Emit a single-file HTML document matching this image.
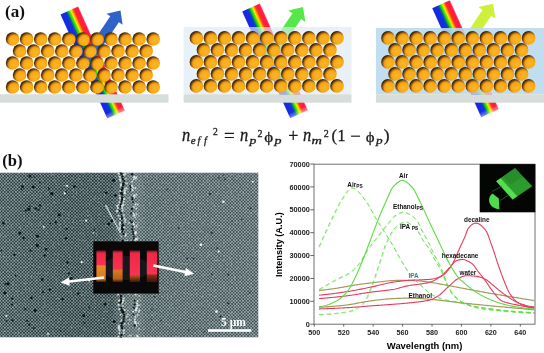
<!DOCTYPE html>
<html lang="en"><head><meta charset="utf-8"><title>Photonic crystal figure</title>
<style>html,body{margin:0;padding:0;background:#fff;}body{width:544px;height:353px;overflow:hidden;}svg{display:block;}.ss{font-family:"Liberation Sans",Arial,sans-serif;}.sf{font-family:"Liberation Serif","Times New Roman",serif;}</style></head><body>
<svg width="544" height="353" viewBox="0 0 544 353">
<defs>
<radialGradient id="sph" cx="0.63" cy="0.63" r="0.68"><stop offset="0" stop-color="#fdb624"/><stop offset="0.5" stop-color="#f8a916"/><stop offset="0.63" stop-color="#e29212"/><stop offset="0.75" stop-color="#9e5e0a"/><stop offset="0.87" stop-color="#542f05"/><stop offset="1" stop-color="#261500"/></radialGradient>
<linearGradient id="rb" x1="0" y1="0" x2="1" y2="0"><stop offset="0" stop-color="#3030d8"/><stop offset="0.06" stop-color="#1428e8"/><stop offset="0.30" stop-color="#1032e2"/><stop offset="0.37" stop-color="#0a7a58"/><stop offset="0.43" stop-color="#10cc20"/><stop offset="0.50" stop-color="#58e010"/><stop offset="0.57" stop-color="#f4f000"/><stop offset="0.65" stop-color="#ff9800"/><stop offset="0.73" stop-color="#ff2a30"/><stop offset="0.92" stop-color="#ff1840"/><stop offset="1" stop-color="#ff4878"/></linearGradient>
<pattern id="hex" width="3.2" height="3.2" patternUnits="userSpaceOnUse"><rect width="3.2" height="3.2" fill="#16262b"/>
<circle cx="0" cy="0" r="0.86" fill="#a9bfbf"/>
<circle cx="3.2" cy="0" r="0.86" fill="#a9bfbf"/>
<circle cx="1.6" cy="1.6" r="0.86" fill="#a9bfbf"/>
<circle cx="0" cy="3.2" r="0.86" fill="#a9bfbf"/>
<circle cx="3.2" cy="3.2" r="0.86" fill="#a9bfbf"/>
</pattern>
<linearGradient id="semsh" x1="0" y1="0" x2="1" y2="0"><stop offset="0" stop-color="#c0d0d0" stop-opacity="0.06"/><stop offset="0.25" stop-color="#203030" stop-opacity="0.06"/><stop offset="0.45" stop-color="#203030" stop-opacity="0.10"/><stop offset="0.56" stop-color="#e8eceb" stop-opacity="0.13"/><stop offset="1" stop-color="#e8eceb" stop-opacity="0.16"/></linearGradient>
<linearGradient id="fade" x1="0" y1="0" x2="0" y2="1"><stop offset="0" stop-color="#fff" stop-opacity="0"/><stop offset="1" stop-color="#fff" stop-opacity="0.55"/></linearGradient>
<clipPath id="semclip"><rect x="0" y="172.5" width="258.5" height="165"/></clipPath>
<clipPath id="plotclip"><rect x="314" y="164" width="221" height="160"/></clipPath>
<filter id="noise" x="0" y="0" width="1" height="1"><feTurbulence type="fractalNoise" baseFrequency="0.55" numOctaves="2" seed="4"/><feColorMatrix type="matrix" values="0 0 0 0 0.86  0 0 0 0 0.92  0 0 0 0 0.91  2.6 0 0 0 -1.45"/></filter>
<filter id="noise2" x="0" y="0" width="1" height="1"><feTurbulence type="fractalNoise" baseFrequency="0.5" numOctaves="2" seed="11"/><feColorMatrix type="matrix" values="0 0 0 0 0.05  0 0 0 0 0.09  0 0 0 0 0.1  0 2.6 0 0 -1.45"/></filter>
</defs>
<rect width="544" height="353" fill="#ffffff"/>
<g transform="translate(60.5 14.4) rotate(-24.2)">
<rect x="0" y="0" width="19.4" height="114" fill="url(#rb)"/>
<rect x="-1" y="109" width="21.4" height="6" fill="url(#fade)"/>
</g>
<polygon points="120.5,10.5 122.64,24.74 118.87,22.19 91.21,63.09 82.59,57.27 110.26,16.36 106.49,13.82" fill="#2f63c7"/>
<circle cx="12.6" cy="39" r="6.8" fill="url(#sph)"/>
<circle cx="26.66" cy="39" r="6.8" fill="url(#sph)"/>
<circle cx="40.72" cy="39" r="6.8" fill="url(#sph)"/>
<circle cx="54.78" cy="39" r="6.8" fill="url(#sph)"/>
<circle cx="68.84" cy="39" r="6.8" fill="url(#sph)"/>
<circle cx="82.9" cy="39" r="6.8" fill="url(#sph)"/>
<circle cx="96.96" cy="39" r="6.8" fill="url(#sph)"/>
<circle cx="111.02" cy="39" r="6.8" fill="url(#sph)"/>
<circle cx="125.08" cy="39" r="6.8" fill="url(#sph)"/>
<circle cx="139.14" cy="39" r="6.8" fill="url(#sph)"/>
<circle cx="153.2" cy="39" r="6.8" fill="url(#sph)"/>
<circle cx="19.63" cy="51" r="6.8" fill="url(#sph)"/>
<circle cx="33.69" cy="51" r="6.8" fill="url(#sph)"/>
<circle cx="47.75" cy="51" r="6.8" fill="url(#sph)"/>
<circle cx="61.81" cy="51" r="6.8" fill="url(#sph)"/>
<circle cx="75.87" cy="51" r="6.8" fill="url(#sph)"/>
<circle cx="89.93" cy="51" r="6.8" fill="url(#sph)"/>
<circle cx="103.99" cy="51" r="6.8" fill="url(#sph)"/>
<circle cx="118.05" cy="51" r="6.8" fill="url(#sph)"/>
<circle cx="132.11" cy="51" r="6.8" fill="url(#sph)"/>
<circle cx="146.17" cy="51" r="6.8" fill="url(#sph)"/>
<circle cx="12.6" cy="63" r="6.8" fill="url(#sph)"/>
<circle cx="26.66" cy="63" r="6.8" fill="url(#sph)"/>
<circle cx="40.72" cy="63" r="6.8" fill="url(#sph)"/>
<circle cx="54.78" cy="63" r="6.8" fill="url(#sph)"/>
<circle cx="68.84" cy="63" r="6.8" fill="url(#sph)"/>
<circle cx="82.9" cy="63" r="6.8" fill="url(#sph)"/>
<circle cx="96.96" cy="63" r="6.8" fill="url(#sph)"/>
<circle cx="111.02" cy="63" r="6.8" fill="url(#sph)"/>
<circle cx="125.08" cy="63" r="6.8" fill="url(#sph)"/>
<circle cx="139.14" cy="63" r="6.8" fill="url(#sph)"/>
<circle cx="153.2" cy="63" r="6.8" fill="url(#sph)"/>
<circle cx="19.63" cy="75" r="6.8" fill="url(#sph)"/>
<circle cx="33.69" cy="75" r="6.8" fill="url(#sph)"/>
<circle cx="47.75" cy="75" r="6.8" fill="url(#sph)"/>
<circle cx="61.81" cy="75" r="6.8" fill="url(#sph)"/>
<circle cx="75.87" cy="75" r="6.8" fill="url(#sph)"/>
<circle cx="89.93" cy="75" r="6.8" fill="url(#sph)"/>
<circle cx="103.99" cy="75" r="6.8" fill="url(#sph)"/>
<circle cx="118.05" cy="75" r="6.8" fill="url(#sph)"/>
<circle cx="132.11" cy="75" r="6.8" fill="url(#sph)"/>
<circle cx="146.17" cy="75" r="6.8" fill="url(#sph)"/>
<circle cx="12.6" cy="87" r="6.8" fill="url(#sph)"/>
<circle cx="26.66" cy="87" r="6.8" fill="url(#sph)"/>
<circle cx="40.72" cy="87" r="6.8" fill="url(#sph)"/>
<circle cx="54.78" cy="87" r="6.8" fill="url(#sph)"/>
<circle cx="68.84" cy="87" r="6.8" fill="url(#sph)"/>
<circle cx="82.9" cy="87" r="6.8" fill="url(#sph)"/>
<circle cx="96.96" cy="87" r="6.8" fill="url(#sph)"/>
<circle cx="111.02" cy="87" r="6.8" fill="url(#sph)"/>
<circle cx="125.08" cy="87" r="6.8" fill="url(#sph)"/>
<circle cx="139.14" cy="87" r="6.8" fill="url(#sph)"/>
<circle cx="153.2" cy="87" r="6.8" fill="url(#sph)"/>
<rect x="0" y="94.3" width="168.5" height="8.4" fill="#d6dddb"/>
<g transform="translate(242.2 11.5) rotate(-24.2)">
<rect x="0" y="0" width="19.4" height="117" fill="url(#rb)"/>
<rect x="-1" y="112" width="21.4" height="6" fill="url(#fade)"/>
</g>
<polygon points="303,7.1 305.37,21.98 301.15,19.12 273.71,59.69 265.09,53.87 292.53,13.3 288.31,10.44" fill="#55e848"/>
<rect x="183.6" y="27" width="167.9" height="67.3" fill="#dcebf3" opacity="0.68"/>
<circle cx="196.4" cy="37.9" r="6.8" fill="url(#sph)"/>
<circle cx="210.46" cy="37.9" r="6.8" fill="url(#sph)"/>
<circle cx="224.52" cy="37.9" r="6.8" fill="url(#sph)"/>
<circle cx="238.58" cy="37.9" r="6.8" fill="url(#sph)"/>
<circle cx="252.64" cy="37.9" r="6.8" fill="url(#sph)"/>
<circle cx="266.7" cy="37.9" r="6.8" fill="url(#sph)"/>
<circle cx="280.76" cy="37.9" r="6.8" fill="url(#sph)"/>
<circle cx="294.82" cy="37.9" r="6.8" fill="url(#sph)"/>
<circle cx="308.88" cy="37.9" r="6.8" fill="url(#sph)"/>
<circle cx="322.94" cy="37.9" r="6.8" fill="url(#sph)"/>
<circle cx="337" cy="37.9" r="6.8" fill="url(#sph)"/>
<circle cx="203.43" cy="49.9" r="6.8" fill="url(#sph)"/>
<circle cx="217.49" cy="49.9" r="6.8" fill="url(#sph)"/>
<circle cx="231.55" cy="49.9" r="6.8" fill="url(#sph)"/>
<circle cx="245.61" cy="49.9" r="6.8" fill="url(#sph)"/>
<circle cx="259.67" cy="49.9" r="6.8" fill="url(#sph)"/>
<circle cx="273.73" cy="49.9" r="6.8" fill="url(#sph)"/>
<circle cx="287.79" cy="49.9" r="6.8" fill="url(#sph)"/>
<circle cx="301.85" cy="49.9" r="6.8" fill="url(#sph)"/>
<circle cx="315.91" cy="49.9" r="6.8" fill="url(#sph)"/>
<circle cx="329.97" cy="49.9" r="6.8" fill="url(#sph)"/>
<circle cx="196.4" cy="61.9" r="6.8" fill="url(#sph)"/>
<circle cx="210.46" cy="61.9" r="6.8" fill="url(#sph)"/>
<circle cx="224.52" cy="61.9" r="6.8" fill="url(#sph)"/>
<circle cx="238.58" cy="61.9" r="6.8" fill="url(#sph)"/>
<circle cx="252.64" cy="61.9" r="6.8" fill="url(#sph)"/>
<circle cx="266.7" cy="61.9" r="6.8" fill="url(#sph)"/>
<circle cx="280.76" cy="61.9" r="6.8" fill="url(#sph)"/>
<circle cx="294.82" cy="61.9" r="6.8" fill="url(#sph)"/>
<circle cx="308.88" cy="61.9" r="6.8" fill="url(#sph)"/>
<circle cx="322.94" cy="61.9" r="6.8" fill="url(#sph)"/>
<circle cx="337" cy="61.9" r="6.8" fill="url(#sph)"/>
<circle cx="203.43" cy="73.9" r="6.8" fill="url(#sph)"/>
<circle cx="217.49" cy="73.9" r="6.8" fill="url(#sph)"/>
<circle cx="231.55" cy="73.9" r="6.8" fill="url(#sph)"/>
<circle cx="245.61" cy="73.9" r="6.8" fill="url(#sph)"/>
<circle cx="259.67" cy="73.9" r="6.8" fill="url(#sph)"/>
<circle cx="273.73" cy="73.9" r="6.8" fill="url(#sph)"/>
<circle cx="287.79" cy="73.9" r="6.8" fill="url(#sph)"/>
<circle cx="301.85" cy="73.9" r="6.8" fill="url(#sph)"/>
<circle cx="315.91" cy="73.9" r="6.8" fill="url(#sph)"/>
<circle cx="329.97" cy="73.9" r="6.8" fill="url(#sph)"/>
<circle cx="196.4" cy="85.9" r="6.8" fill="url(#sph)"/>
<circle cx="210.46" cy="85.9" r="6.8" fill="url(#sph)"/>
<circle cx="224.52" cy="85.9" r="6.8" fill="url(#sph)"/>
<circle cx="238.58" cy="85.9" r="6.8" fill="url(#sph)"/>
<circle cx="252.64" cy="85.9" r="6.8" fill="url(#sph)"/>
<circle cx="266.7" cy="85.9" r="6.8" fill="url(#sph)"/>
<circle cx="280.76" cy="85.9" r="6.8" fill="url(#sph)"/>
<circle cx="294.82" cy="85.9" r="6.8" fill="url(#sph)"/>
<circle cx="308.88" cy="85.9" r="6.8" fill="url(#sph)"/>
<circle cx="322.94" cy="85.9" r="6.8" fill="url(#sph)"/>
<circle cx="337" cy="85.9" r="6.8" fill="url(#sph)"/>
<rect x="183.6" y="94.3" width="167.9" height="8.4" fill="#d6dddb"/>
<g transform="translate(432.2 8.2) rotate(-24.2)">
<rect x="0" y="0" width="19.4" height="119.5" fill="url(#rb)"/>
<rect x="-1" y="114.5" width="21.4" height="6" fill="url(#fade)"/>
</g>
<polygon points="493,3.7 495.37,18.58 491.15,15.72 463.71,56.29 455.09,50.47 482.53,9.9 478.31,7.04" fill="#cdf03a"/>
<rect x="375.9" y="28" width="168.1" height="66.3" fill="#b7daee" opacity="0.88"/>
<circle cx="388" cy="37.9" r="6.8" fill="url(#sph)"/>
<circle cx="402.06" cy="37.9" r="6.8" fill="url(#sph)"/>
<circle cx="416.12" cy="37.9" r="6.8" fill="url(#sph)"/>
<circle cx="430.18" cy="37.9" r="6.8" fill="url(#sph)"/>
<circle cx="444.24" cy="37.9" r="6.8" fill="url(#sph)"/>
<circle cx="458.3" cy="37.9" r="6.8" fill="url(#sph)"/>
<circle cx="472.36" cy="37.9" r="6.8" fill="url(#sph)"/>
<circle cx="486.42" cy="37.9" r="6.8" fill="url(#sph)"/>
<circle cx="500.48" cy="37.9" r="6.8" fill="url(#sph)"/>
<circle cx="514.54" cy="37.9" r="6.8" fill="url(#sph)"/>
<circle cx="528.6" cy="37.9" r="6.8" fill="url(#sph)"/>
<circle cx="395.03" cy="49.9" r="6.8" fill="url(#sph)"/>
<circle cx="409.09" cy="49.9" r="6.8" fill="url(#sph)"/>
<circle cx="423.15" cy="49.9" r="6.8" fill="url(#sph)"/>
<circle cx="437.21" cy="49.9" r="6.8" fill="url(#sph)"/>
<circle cx="451.27" cy="49.9" r="6.8" fill="url(#sph)"/>
<circle cx="465.33" cy="49.9" r="6.8" fill="url(#sph)"/>
<circle cx="479.39" cy="49.9" r="6.8" fill="url(#sph)"/>
<circle cx="493.45" cy="49.9" r="6.8" fill="url(#sph)"/>
<circle cx="507.51" cy="49.9" r="6.8" fill="url(#sph)"/>
<circle cx="521.57" cy="49.9" r="6.8" fill="url(#sph)"/>
<circle cx="388" cy="61.9" r="6.8" fill="url(#sph)"/>
<circle cx="402.06" cy="61.9" r="6.8" fill="url(#sph)"/>
<circle cx="416.12" cy="61.9" r="6.8" fill="url(#sph)"/>
<circle cx="430.18" cy="61.9" r="6.8" fill="url(#sph)"/>
<circle cx="444.24" cy="61.9" r="6.8" fill="url(#sph)"/>
<circle cx="458.3" cy="61.9" r="6.8" fill="url(#sph)"/>
<circle cx="472.36" cy="61.9" r="6.8" fill="url(#sph)"/>
<circle cx="486.42" cy="61.9" r="6.8" fill="url(#sph)"/>
<circle cx="500.48" cy="61.9" r="6.8" fill="url(#sph)"/>
<circle cx="514.54" cy="61.9" r="6.8" fill="url(#sph)"/>
<circle cx="528.6" cy="61.9" r="6.8" fill="url(#sph)"/>
<circle cx="395.03" cy="73.9" r="6.8" fill="url(#sph)"/>
<circle cx="409.09" cy="73.9" r="6.8" fill="url(#sph)"/>
<circle cx="423.15" cy="73.9" r="6.8" fill="url(#sph)"/>
<circle cx="437.21" cy="73.9" r="6.8" fill="url(#sph)"/>
<circle cx="451.27" cy="73.9" r="6.8" fill="url(#sph)"/>
<circle cx="465.33" cy="73.9" r="6.8" fill="url(#sph)"/>
<circle cx="479.39" cy="73.9" r="6.8" fill="url(#sph)"/>
<circle cx="493.45" cy="73.9" r="6.8" fill="url(#sph)"/>
<circle cx="507.51" cy="73.9" r="6.8" fill="url(#sph)"/>
<circle cx="521.57" cy="73.9" r="6.8" fill="url(#sph)"/>
<circle cx="388" cy="85.9" r="6.8" fill="url(#sph)"/>
<circle cx="402.06" cy="85.9" r="6.8" fill="url(#sph)"/>
<circle cx="416.12" cy="85.9" r="6.8" fill="url(#sph)"/>
<circle cx="430.18" cy="85.9" r="6.8" fill="url(#sph)"/>
<circle cx="444.24" cy="85.9" r="6.8" fill="url(#sph)"/>
<circle cx="458.3" cy="85.9" r="6.8" fill="url(#sph)"/>
<circle cx="472.36" cy="85.9" r="6.8" fill="url(#sph)"/>
<circle cx="486.42" cy="85.9" r="6.8" fill="url(#sph)"/>
<circle cx="500.48" cy="85.9" r="6.8" fill="url(#sph)"/>
<circle cx="514.54" cy="85.9" r="6.8" fill="url(#sph)"/>
<circle cx="528.6" cy="85.9" r="6.8" fill="url(#sph)"/>
<rect x="375.9" y="94.3" width="168.1" height="8.4" fill="#d6dddb"/>
<text class="sf" x="5" y="17" font-size="17" font-weight="bold" fill="#111">(a)</text>
<text class="sf" x="2.3" y="166.2" font-size="16.6" font-weight="bold" fill="#111">(b)</text>
<text class="sf" x="182" y="141.4" font-size="19" font-style="italic" fill="#1a1a1a" stroke="#1a1a1a" stroke-width="0.3" textLength="8.2" lengthAdjust="spacingAndGlyphs">n</text>
<text class="sf" x="190.7" y="144.4" font-size="11" font-style="italic" fill="#1a1a1a" stroke="#1a1a1a" stroke-width="0.3">e</text>
<text class="sf" x="197.6" y="144.4" font-size="10.2" font-style="italic" fill="#1a1a1a" stroke="#1a1a1a" stroke-width="0.3">f</text>
<text class="sf" x="203.9" y="144.4" font-size="10.2" font-style="italic" fill="#1a1a1a" stroke="#1a1a1a" stroke-width="0.3">f</text>
<text class="sf" x="213" y="135" font-size="10" fill="#1a1a1a" stroke="#1a1a1a" stroke-width="0.3" textLength="4.8" lengthAdjust="spacingAndGlyphs">2</text>
<text class="sf" x="224" y="141.7" font-size="18" fill="#1a1a1a" stroke="#1a1a1a" stroke-width="0.3" textLength="10.8" lengthAdjust="spacingAndGlyphs">=</text>
<text class="sf" x="240" y="141.4" font-size="19" font-style="italic" fill="#1a1a1a" stroke="#1a1a1a" stroke-width="0.3" textLength="8.2" lengthAdjust="spacingAndGlyphs">n</text>
<text class="sf" x="249.6" y="144.4" font-size="10.5" font-style="italic" fill="#1a1a1a" stroke="#1a1a1a" stroke-width="0.3" textLength="6.8" lengthAdjust="spacingAndGlyphs">p</text>
<text class="sf" x="257.6" y="136.7" font-size="10" fill="#1a1a1a" stroke="#1a1a1a" stroke-width="0.3" textLength="5" lengthAdjust="spacingAndGlyphs">2</text>
<text class="sf" x="264.3" y="141.6" font-size="14.8" fill="#1a1a1a" stroke="#1a1a1a" stroke-width="0.3" textLength="8.9" lengthAdjust="spacingAndGlyphs">ϕ</text>
<text class="sf" x="274.6" y="144.4" font-size="10.5" font-style="italic" fill="#1a1a1a" stroke="#1a1a1a" stroke-width="0.3" textLength="7" lengthAdjust="spacingAndGlyphs">p</text>
<text class="sf" x="288.2" y="141.7" font-size="18" fill="#1a1a1a" stroke="#1a1a1a" stroke-width="0.3" textLength="10.1" lengthAdjust="spacingAndGlyphs">+</text>
<text class="sf" x="303" y="141.4" font-size="19" font-style="italic" fill="#1a1a1a" stroke="#1a1a1a" stroke-width="0.3" textLength="8.2" lengthAdjust="spacingAndGlyphs">n</text>
<text class="sf" x="311.6" y="144.4" font-size="10.5" font-style="italic" fill="#1a1a1a" stroke="#1a1a1a" stroke-width="0.3" textLength="10.4" lengthAdjust="spacingAndGlyphs">m</text>
<text class="sf" x="323.8" y="136.7" font-size="10" fill="#1a1a1a" stroke="#1a1a1a" stroke-width="0.3" textLength="5" lengthAdjust="spacingAndGlyphs">2</text>
<text class="sf" x="331.6" y="141.4" font-size="16.5" fill="#1a1a1a" stroke="#1a1a1a" stroke-width="0.3" textLength="5.6" lengthAdjust="spacingAndGlyphs">(</text>
<text class="sf" x="337.6" y="141.4" font-size="15.8" fill="#1a1a1a" stroke="#1a1a1a" stroke-width="0.3" textLength="8" lengthAdjust="spacingAndGlyphs">1</text>
<text class="sf" x="350.2" y="141.7" font-size="18" fill="#1a1a1a" stroke="#1a1a1a" stroke-width="0.3" textLength="10.6" lengthAdjust="spacingAndGlyphs">−</text>
<text class="sf" x="365.8" y="141.6" font-size="14.8" fill="#1a1a1a" stroke="#1a1a1a" stroke-width="0.3" textLength="8.8" lengthAdjust="spacingAndGlyphs">ϕ</text>
<text class="sf" x="376" y="144.4" font-size="10.5" font-style="italic" fill="#1a1a1a" stroke="#1a1a1a" stroke-width="0.3" textLength="6.6" lengthAdjust="spacingAndGlyphs">p</text>
<text class="sf" x="383.8" y="141.4" font-size="16.5" fill="#1a1a1a" stroke="#1a1a1a" stroke-width="0.3" textLength="5.8" lengthAdjust="spacingAndGlyphs">)</text>
<g clip-path="url(#semclip)">
<rect x="0" y="172.5" width="258.5" height="165" fill="url(#hex)"/>
<rect x="0" y="172.5" width="258.5" height="165" fill="url(#semsh)"/>
<rect x="0" y="172.5" width="258.5" height="165" filter="url(#noise)" opacity="0.5"/>
<rect x="0" y="172.5" width="258.5" height="165" filter="url(#noise2)" opacity="0.5"/>
<linearGradient id="crk" gradientUnits="userSpaceOnUse" x1="112" y1="0" x2="146" y2="0"><stop offset="0" stop-color="#c8d4d2" stop-opacity="0"/><stop offset="0.3" stop-color="#c8d4d2" stop-opacity="0.2"/><stop offset="0.75" stop-color="#c8d4d2" stop-opacity="0.2"/><stop offset="1" stop-color="#c8d4d2" stop-opacity="0"/></linearGradient>
<rect x="112" y="172.5" width="34" height="165" fill="url(#crk)"/>
<circle cx="120.47" cy="171.87" r="1.2" fill="#0b1315"/>
<circle cx="122.22" cy="172.54" r="0.9" fill="#cfdad8"/>
<circle cx="134.89" cy="171.96" r="1.18" fill="#dce6e4"/>
<circle cx="128.06" cy="172.59" r="0.86" fill="#ccd8d6"/>
<circle cx="121.49" cy="173.86" r="1.28" fill="#0b1315"/>
<circle cx="118.71" cy="173.55" r="1.15" fill="#d4dedc"/>
<circle cx="123.91" cy="174.91" r="1.09" fill="#cfdad8"/>
<circle cx="132.09" cy="174.21" r="1.17" fill="#0e181a"/>
<circle cx="125.37" cy="173.85" r="0.99" fill="#ccd8d6"/>
<circle cx="122.43" cy="176.4" r="1.15" fill="#0b1315"/>
<circle cx="119.77" cy="176.74" r="1.03" fill="#d4dedc"/>
<circle cx="134.22" cy="177.03" r="1.25" fill="#dce6e4"/>
<circle cx="136.34" cy="177.34" r="0.97" fill="#d8e2e0"/>
<circle cx="122.66" cy="179.23" r="1.19" fill="#0b1315"/>
<circle cx="120.25" cy="179.47" r="1.2" fill="#d4dedc"/>
<circle cx="125.83" cy="178.76" r="0.86" fill="#cfdad8"/>
<circle cx="133.58" cy="179.35" r="0.87" fill="#dce6e4"/>
<circle cx="135.76" cy="178.63" r="0.96" fill="#d8e2e0"/>
<circle cx="124.14" cy="181.01" r="0.94" fill="#0b1315"/>
<circle cx="120.58" cy="180.72" r="0.96" fill="#d4dedc"/>
<circle cx="132.08" cy="181.64" r="0.98" fill="#dce6e4"/>
<circle cx="123.36" cy="183.64" r="1.2" fill="#0b1315"/>
<circle cx="121.17" cy="184.2" r="1" fill="#d4dedc"/>
<circle cx="125.99" cy="183.08" r="0.92" fill="#cfdad8"/>
<circle cx="127.44" cy="183.63" r="0.71" fill="#ccd8d6"/>
<circle cx="123.07" cy="185.36" r="1.21" fill="#0b1315"/>
<circle cx="120.8" cy="185.56" r="1.08" fill="#d4dedc"/>
<circle cx="131.8" cy="186.01" r="1.24" fill="#dce6e4"/>
<circle cx="130.24" cy="185.95" r="0.93" fill="#0e181a"/>
<circle cx="122.55" cy="187.9" r="1.09" fill="#0b1315"/>
<circle cx="124.9" cy="188.48" r="0.92" fill="#cfdad8"/>
<circle cx="133.1" cy="187.79" r="0.92" fill="#dce6e4"/>
<circle cx="130.69" cy="187.46" r="0.93" fill="#0e181a"/>
<circle cx="135.38" cy="188" r="0.96" fill="#d8e2e0"/>
<circle cx="126.54" cy="188.34" r="0.97" fill="#ccd8d6"/>
<circle cx="121.77" cy="190.02" r="1.16" fill="#0b1315"/>
<circle cx="120.22" cy="190.94" r="0.87" fill="#d4dedc"/>
<circle cx="124.92" cy="190.63" r="1.12" fill="#cfdad8"/>
<circle cx="132.31" cy="190.15" r="1.17" fill="#dce6e4"/>
<circle cx="130.49" cy="190.27" r="0.97" fill="#0e181a"/>
<circle cx="121.49" cy="193.14" r="1.34" fill="#0b1315"/>
<circle cx="125.13" cy="193.38" r="0.89" fill="#cfdad8"/>
<circle cx="122.16" cy="194.73" r="0.93" fill="#0b1315"/>
<circle cx="119.83" cy="195.5" r="0.82" fill="#d4dedc"/>
<circle cx="134.47" cy="195.48" r="1.21" fill="#dce6e4"/>
<circle cx="136.44" cy="194.47" r="0.79" fill="#d8e2e0"/>
<circle cx="122.38" cy="197.74" r="1.21" fill="#0b1315"/>
<circle cx="119.9" cy="197.88" r="0.99" fill="#d4dedc"/>
<circle cx="133.77" cy="197.34" r="1.18" fill="#dce6e4"/>
<circle cx="132.46" cy="197.97" r="1.12" fill="#0e181a"/>
<circle cx="129.15" cy="197.88" r="0.71" fill="#ccd8d6"/>
<circle cx="121.97" cy="199.63" r="1.11" fill="#0b1315"/>
<circle cx="120.32" cy="198.8" r="0.82" fill="#d4dedc"/>
<circle cx="124.24" cy="198.91" r="1.19" fill="#cfdad8"/>
<circle cx="132.43" cy="199.31" r="0.93" fill="#0e181a"/>
<circle cx="121.5" cy="201.59" r="1.06" fill="#0b1315"/>
<circle cx="119.46" cy="202.25" r="0.95" fill="#d4dedc"/>
<circle cx="123.71" cy="201.7" r="1.04" fill="#cfdad8"/>
<circle cx="133.06" cy="202.1" r="0.97" fill="#0e181a"/>
<circle cx="120.75" cy="204.39" r="1.13" fill="#0b1315"/>
<circle cx="118.61" cy="204.51" r="0.83" fill="#d4dedc"/>
<circle cx="123.18" cy="204.81" r="1.17" fill="#cfdad8"/>
<circle cx="135.51" cy="204.55" r="0.95" fill="#dce6e4"/>
<circle cx="137.61" cy="204.46" r="0.97" fill="#d8e2e0"/>
<circle cx="120.43" cy="206.56" r="0.95" fill="#0b1315"/>
<circle cx="117.21" cy="205.93" r="1.11" fill="#d4dedc"/>
<circle cx="122.01" cy="205.86" r="1.15" fill="#cfdad8"/>
<circle cx="133.96" cy="206.91" r="0.9" fill="#dce6e4"/>
<circle cx="117.77" cy="208.06" r="1.11" fill="#d4dedc"/>
<circle cx="122.37" cy="208.17" r="1.1" fill="#cfdad8"/>
<circle cx="131.99" cy="208.9" r="1.13" fill="#0e181a"/>
<circle cx="136.28" cy="208.4" r="0.88" fill="#d8e2e0"/>
<circle cx="119.7" cy="211" r="1.08" fill="#0b1315"/>
<circle cx="117.08" cy="211.1" r="1.19" fill="#d4dedc"/>
<circle cx="122.58" cy="210.56" r="1.08" fill="#cfdad8"/>
<circle cx="121.1" cy="213.05" r="0.95" fill="#0b1315"/>
<circle cx="133.6" cy="213.66" r="0.92" fill="#dce6e4"/>
<circle cx="131.07" cy="213.54" r="0.93" fill="#0e181a"/>
<circle cx="136.26" cy="214.13" r="0.79" fill="#d8e2e0"/>
<circle cx="121.92" cy="215.78" r="1.03" fill="#0b1315"/>
<circle cx="118.55" cy="215.67" r="0.95" fill="#d4dedc"/>
<circle cx="123.66" cy="215.42" r="1.11" fill="#cfdad8"/>
<circle cx="134.18" cy="215.68" r="1.09" fill="#dce6e4"/>
<circle cx="122.17" cy="218.22" r="1.33" fill="#0b1315"/>
<circle cx="120.18" cy="218.74" r="0.99" fill="#d4dedc"/>
<circle cx="124.28" cy="218.35" r="1.07" fill="#cfdad8"/>
<circle cx="135.11" cy="217.61" r="0.76" fill="#d8e2e0"/>
<circle cx="125.45" cy="220" r="0.97" fill="#cfdad8"/>
<circle cx="130.5" cy="220.83" r="0.92" fill="#0e181a"/>
<circle cx="121.94" cy="222.43" r="1.12" fill="#0b1315"/>
<circle cx="119.99" cy="222.74" r="1.18" fill="#d4dedc"/>
<circle cx="125.09" cy="221.99" r="0.91" fill="#cfdad8"/>
<circle cx="132.85" cy="223.06" r="1.21" fill="#dce6e4"/>
<circle cx="131.89" cy="222.4" r="1.11" fill="#0e181a"/>
<circle cx="129.11" cy="222.85" r="0.94" fill="#ccd8d6"/>
<circle cx="122.78" cy="225.36" r="1.24" fill="#0b1315"/>
<circle cx="119.66" cy="224.89" r="0.94" fill="#d4dedc"/>
<circle cx="133.94" cy="224.52" r="1.11" fill="#dce6e4"/>
<circle cx="136.68" cy="225.15" r="0.74" fill="#d8e2e0"/>
<circle cx="122" cy="227.42" r="1.2" fill="#0b1315"/>
<circle cx="120.11" cy="227.13" r="0.92" fill="#d4dedc"/>
<circle cx="124.12" cy="227.55" r="1.1" fill="#cfdad8"/>
<circle cx="134.67" cy="227.03" r="0.96" fill="#dce6e4"/>
<circle cx="132.61" cy="226.47" r="1" fill="#0e181a"/>
<circle cx="136.97" cy="226.97" r="0.8" fill="#d8e2e0"/>
<circle cx="122.67" cy="229.35" r="1.32" fill="#0b1315"/>
<circle cx="119.72" cy="228.86" r="0.85" fill="#d4dedc"/>
<circle cx="132.13" cy="229.37" r="1.1" fill="#0e181a"/>
<circle cx="122.13" cy="231.7" r="1" fill="#0b1315"/>
<circle cx="120.4" cy="231.32" r="0.9" fill="#d4dedc"/>
<circle cx="135.67" cy="232.27" r="1.23" fill="#dce6e4"/>
<circle cx="133.06" cy="231.93" r="1.05" fill="#0e181a"/>
<circle cx="123.57" cy="234.08" r="1.2" fill="#0b1315"/>
<circle cx="125.79" cy="234.36" r="1" fill="#cfdad8"/>
<circle cx="135.42" cy="233.73" r="1.06" fill="#dce6e4"/>
<circle cx="133.28" cy="234.33" r="0.98" fill="#0e181a"/>
<circle cx="121.38" cy="236.6" r="0.82" fill="#d4dedc"/>
<circle cx="125.41" cy="235.72" r="1.02" fill="#cfdad8"/>
<circle cx="133.92" cy="236.71" r="0.85" fill="#0e181a"/>
<circle cx="136.03" cy="239.22" r="1.19" fill="#dce6e4"/>
<circle cx="133.7" cy="238.68" r="0.84" fill="#0e181a"/>
<circle cx="137.25" cy="238.22" r="0.75" fill="#d8e2e0"/>
<circle cx="122.59" cy="240.92" r="1.22" fill="#0b1315"/>
<circle cx="120.2" cy="241.41" r="0.96" fill="#d4dedc"/>
<circle cx="125.42" cy="241.35" r="0.95" fill="#cfdad8"/>
<circle cx="135.36" cy="241.12" r="0.94" fill="#dce6e4"/>
<circle cx="132.7" cy="241.45" r="0.86" fill="#0e181a"/>
<circle cx="127.18" cy="240.47" r="0.82" fill="#ccd8d6"/>
<circle cx="120.93" cy="242.91" r="0.98" fill="#0b1315"/>
<circle cx="118.76" cy="242.54" r="0.98" fill="#d4dedc"/>
<circle cx="124.23" cy="242.58" r="0.96" fill="#cfdad8"/>
<circle cx="134.21" cy="243.86" r="0.94" fill="#dce6e4"/>
<circle cx="132.74" cy="242.76" r="1.05" fill="#0e181a"/>
<circle cx="136.75" cy="242.58" r="0.92" fill="#d8e2e0"/>
<circle cx="130.01" cy="243.24" r="0.98" fill="#ccd8d6"/>
<circle cx="120.29" cy="245.37" r="1.31" fill="#0b1315"/>
<circle cx="122.55" cy="245.89" r="1.19" fill="#cfdad8"/>
<circle cx="133.8" cy="245.04" r="0.89" fill="#dce6e4"/>
<circle cx="131.74" cy="244.89" r="1.06" fill="#0e181a"/>
<circle cx="130.46" cy="245.56" r="0.94" fill="#ccd8d6"/>
<circle cx="122.19" cy="248.07" r="1.18" fill="#cfdad8"/>
<circle cx="133.92" cy="248.32" r="0.9" fill="#dce6e4"/>
<circle cx="131.82" cy="248.19" r="1.17" fill="#0e181a"/>
<circle cx="136.89" cy="248.27" r="0.95" fill="#d8e2e0"/>
<circle cx="117.53" cy="249.77" r="1.11" fill="#d4dedc"/>
<circle cx="122.06" cy="249.67" r="1.09" fill="#cfdad8"/>
<circle cx="134.36" cy="250.06" r="1.04" fill="#dce6e4"/>
<circle cx="132.12" cy="249.44" r="0.99" fill="#0e181a"/>
<circle cx="119.95" cy="252.84" r="1.22" fill="#0b1315"/>
<circle cx="134.59" cy="252.78" r="0.98" fill="#dce6e4"/>
<circle cx="131.16" cy="252.34" r="1.18" fill="#0e181a"/>
<circle cx="136.35" cy="251.88" r="0.72" fill="#d8e2e0"/>
<circle cx="120.31" cy="254.45" r="1.22" fill="#0b1315"/>
<circle cx="118.05" cy="254.37" r="1.19" fill="#d4dedc"/>
<circle cx="123.41" cy="254.67" r="1.11" fill="#cfdad8"/>
<circle cx="134.54" cy="254.84" r="0.93" fill="#dce6e4"/>
<circle cx="131.29" cy="255.32" r="0.85" fill="#0e181a"/>
<circle cx="137.03" cy="254.32" r="0.97" fill="#d8e2e0"/>
<circle cx="127.3" cy="254.36" r="0.95" fill="#ccd8d6"/>
<circle cx="121.69" cy="257.36" r="1.34" fill="#0b1315"/>
<circle cx="119.31" cy="257.01" r="0.84" fill="#d4dedc"/>
<circle cx="134.87" cy="256.75" r="1.07" fill="#dce6e4"/>
<circle cx="127.01" cy="257.08" r="0.72" fill="#ccd8d6"/>
<circle cx="122.08" cy="259.32" r="1.22" fill="#0b1315"/>
<circle cx="123.97" cy="260.19" r="0.93" fill="#cfdad8"/>
<circle cx="134.13" cy="259.06" r="0.92" fill="#dce6e4"/>
<circle cx="135.14" cy="262.24" r="1.21" fill="#dce6e4"/>
<circle cx="122.25" cy="264.42" r="1.05" fill="#0b1315"/>
<circle cx="123.47" cy="264.36" r="0.92" fill="#cfdad8"/>
<circle cx="135.95" cy="263.45" r="1.15" fill="#dce6e4"/>
<circle cx="133.43" cy="263.75" r="1.1" fill="#0e181a"/>
<circle cx="126.26" cy="263.68" r="0.82" fill="#ccd8d6"/>
<circle cx="121.05" cy="266.56" r="1.25" fill="#0b1315"/>
<circle cx="133.41" cy="266" r="0.99" fill="#0e181a"/>
<circle cx="122.33" cy="268.39" r="1.13" fill="#0b1315"/>
<circle cx="135.88" cy="268.97" r="0.85" fill="#dce6e4"/>
<circle cx="134.14" cy="268.66" r="0.87" fill="#0e181a"/>
<circle cx="138.18" cy="269.03" r="0.84" fill="#d8e2e0"/>
<circle cx="123.13" cy="270.44" r="0.99" fill="#0b1315"/>
<circle cx="120.08" cy="270.64" r="0.82" fill="#d4dedc"/>
<circle cx="124.37" cy="270.6" r="0.9" fill="#cfdad8"/>
<circle cx="133.78" cy="270.17" r="0.97" fill="#0e181a"/>
<circle cx="125.16" cy="273.61" r="1.12" fill="#cfdad8"/>
<circle cx="136.7" cy="273.26" r="0.96" fill="#dce6e4"/>
<circle cx="133.29" cy="273.43" r="1.16" fill="#0e181a"/>
<circle cx="124.32" cy="275.81" r="1.2" fill="#0b1315"/>
<circle cx="121.45" cy="274.97" r="0.87" fill="#d4dedc"/>
<circle cx="124.21" cy="277.75" r="1.38" fill="#0b1315"/>
<circle cx="121.26" cy="277.84" r="0.96" fill="#d4dedc"/>
<circle cx="130.09" cy="277.88" r="0.85" fill="#ccd8d6"/>
<circle cx="123.6" cy="280.51" r="0.95" fill="#0b1315"/>
<circle cx="125.72" cy="280.73" r="1.18" fill="#cfdad8"/>
<circle cx="134.64" cy="280.6" r="0.92" fill="#dce6e4"/>
<circle cx="133.39" cy="279.81" r="0.91" fill="#0e181a"/>
<circle cx="122.28" cy="282.18" r="0.97" fill="#0b1315"/>
<circle cx="120.7" cy="281.73" r="0.89" fill="#d4dedc"/>
<circle cx="124.32" cy="282.44" r="1.1" fill="#cfdad8"/>
<circle cx="127.33" cy="283.14" r="0.72" fill="#ccd8d6"/>
<circle cx="121.46" cy="284.47" r="1.17" fill="#0b1315"/>
<circle cx="118.87" cy="285.43" r="0.86" fill="#d4dedc"/>
<circle cx="135.48" cy="284.91" r="1.11" fill="#dce6e4"/>
<circle cx="131.87" cy="285.12" r="0.87" fill="#0e181a"/>
<circle cx="137.44" cy="285.3" r="0.71" fill="#d8e2e0"/>
<circle cx="120.63" cy="286.61" r="1.09" fill="#0b1315"/>
<circle cx="122.76" cy="286.43" r="0.85" fill="#cfdad8"/>
<circle cx="135.39" cy="286.49" r="0.93" fill="#dce6e4"/>
<circle cx="120.35" cy="289.75" r="1.14" fill="#0b1315"/>
<circle cx="122.38" cy="289.05" r="1.1" fill="#cfdad8"/>
<circle cx="120.76" cy="291.93" r="1" fill="#0b1315"/>
<circle cx="118.93" cy="292.16" r="0.87" fill="#d4dedc"/>
<circle cx="132.78" cy="291.12" r="0.82" fill="#0e181a"/>
<circle cx="118.16" cy="294.49" r="1.12" fill="#d4dedc"/>
<circle cx="135.8" cy="294.22" r="0.89" fill="#dce6e4"/>
<circle cx="129" cy="293.62" r="0.85" fill="#ccd8d6"/>
<circle cx="121.02" cy="296.06" r="1.2" fill="#0b1315"/>
<circle cx="139.21" cy="295.83" r="0.74" fill="#d8e2e0"/>
<circle cx="121.02" cy="298.65" r="1.04" fill="#0b1315"/>
<circle cx="123.62" cy="298.55" r="1.15" fill="#cfdad8"/>
<circle cx="120.87" cy="301.15" r="1.29" fill="#0b1315"/>
<circle cx="119.1" cy="300.61" r="1.19" fill="#d4dedc"/>
<circle cx="123.04" cy="300.88" r="1.15" fill="#cfdad8"/>
<circle cx="137.53" cy="301.05" r="0.99" fill="#dce6e4"/>
<circle cx="134.75" cy="300.64" r="0.95" fill="#0e181a"/>
<circle cx="120.18" cy="302.82" r="1.09" fill="#0b1315"/>
<circle cx="122.58" cy="302.81" r="0.91" fill="#cfdad8"/>
<circle cx="137.12" cy="303.61" r="1.06" fill="#dce6e4"/>
<circle cx="118.55" cy="304.79" r="1.15" fill="#d4dedc"/>
<circle cx="123" cy="306.02" r="0.91" fill="#cfdad8"/>
<circle cx="137.5" cy="305.52" r="0.88" fill="#dce6e4"/>
<circle cx="134.58" cy="304.61" r="1.13" fill="#0e181a"/>
<circle cx="138.97" cy="305.22" r="0.85" fill="#d8e2e0"/>
<circle cx="121.23" cy="307.64" r="0.95" fill="#0b1315"/>
<circle cx="136.66" cy="308" r="1.25" fill="#dce6e4"/>
<circle cx="133.87" cy="307.67" r="0.97" fill="#0e181a"/>
<circle cx="121.67" cy="310.08" r="1.34" fill="#0b1315"/>
<circle cx="119.35" cy="309.34" r="1.06" fill="#d4dedc"/>
<circle cx="124.71" cy="310.04" r="1.03" fill="#cfdad8"/>
<circle cx="135.98" cy="309.96" r="1.19" fill="#dce6e4"/>
<circle cx="139.38" cy="310.26" r="0.86" fill="#d8e2e0"/>
<circle cx="127.89" cy="310.64" r="0.74" fill="#ccd8d6"/>
<circle cx="122.9" cy="312.15" r="1.28" fill="#0b1315"/>
<circle cx="133.21" cy="312.19" r="0.92" fill="#0e181a"/>
<circle cx="138.85" cy="311.85" r="0.95" fill="#d8e2e0"/>
<circle cx="124.1" cy="314.5" r="1.01" fill="#0b1315"/>
<circle cx="120.66" cy="314.6" r="0.95" fill="#d4dedc"/>
<circle cx="133.35" cy="314.42" r="0.87" fill="#0e181a"/>
<circle cx="137.66" cy="314.91" r="0.8" fill="#d8e2e0"/>
<circle cx="127.93" cy="314.51" r="0.87" fill="#ccd8d6"/>
<circle cx="124.12" cy="316.62" r="1.24" fill="#0b1315"/>
<circle cx="126.54" cy="316.73" r="1.02" fill="#cfdad8"/>
<circle cx="135.67" cy="316.83" r="0.87" fill="#dce6e4"/>
<circle cx="123.29" cy="319.6" r="1.24" fill="#0b1315"/>
<circle cx="121.7" cy="319.98" r="0.94" fill="#d4dedc"/>
<circle cx="134.9" cy="319.46" r="0.99" fill="#dce6e4"/>
<circle cx="129.68" cy="319.76" r="0.84" fill="#ccd8d6"/>
<circle cx="123.49" cy="321.45" r="1.15" fill="#0b1315"/>
<circle cx="121.07" cy="321.02" r="0.84" fill="#d4dedc"/>
<circle cx="135.22" cy="321.97" r="1.2" fill="#dce6e4"/>
<circle cx="121.94" cy="323.31" r="1.24" fill="#0b1315"/>
<circle cx="124.6" cy="323.91" r="0.9" fill="#cfdad8"/>
<circle cx="135.94" cy="323.66" r="0.89" fill="#dce6e4"/>
<circle cx="138.45" cy="323.28" r="0.82" fill="#d8e2e0"/>
<circle cx="128.48" cy="323.92" r="0.73" fill="#ccd8d6"/>
<circle cx="121.64" cy="325.8" r="1.15" fill="#0b1315"/>
<circle cx="118.89" cy="326.16" r="1.17" fill="#d4dedc"/>
<circle cx="136.1" cy="325.58" r="0.96" fill="#dce6e4"/>
<circle cx="134.68" cy="325.49" r="1.18" fill="#0e181a"/>
<circle cx="122.1" cy="328.09" r="1.19" fill="#0b1315"/>
<circle cx="118.79" cy="327.96" r="1.19" fill="#d4dedc"/>
<circle cx="139.33" cy="328.8" r="0.77" fill="#d8e2e0"/>
<circle cx="119.55" cy="330.16" r="1.07" fill="#d4dedc"/>
<circle cx="123.95" cy="330.5" r="1.15" fill="#cfdad8"/>
<circle cx="119.45" cy="333.14" r="0.96" fill="#d4dedc"/>
<circle cx="123.7" cy="333.22" r="0.88" fill="#cfdad8"/>
<circle cx="121.49" cy="334.84" r="1.18" fill="#0b1315"/>
<circle cx="137.21" cy="335.88" r="1.15" fill="#dce6e4"/>
<circle cx="129.98" cy="335.57" r="0.88" fill="#ccd8d6"/>
<circle cx="120.83" cy="337.72" r="1.34" fill="#0b1315"/>
<circle cx="118.44" cy="336.93" r="1.11" fill="#d4dedc"/>
<circle cx="123.68" cy="338.39" r="1.04" fill="#cfdad8"/>
<circle cx="138.09" cy="337" r="0.96" fill="#dce6e4"/>
<circle cx="139.42" cy="337.63" r="0.8" fill="#d8e2e0"/>
<circle cx="106" cy="206" r="0.9" fill="#d5e0de"/>
<circle cx="107.08" cy="208" r="0.9" fill="#d5e0de"/>
<circle cx="108.15" cy="210" r="0.9" fill="#d5e0de"/>
<circle cx="109.23" cy="212" r="0.9" fill="#d5e0de"/>
<circle cx="110.31" cy="214" r="0.9" fill="#d5e0de"/>
<circle cx="111.38" cy="216" r="0.9" fill="#d5e0de"/>
<circle cx="112.46" cy="218" r="0.9" fill="#d5e0de"/>
<circle cx="113.54" cy="220" r="0.9" fill="#d5e0de"/>
<circle cx="114.62" cy="222" r="0.9" fill="#d5e0de"/>
<circle cx="115.69" cy="224" r="0.9" fill="#d5e0de"/>
<circle cx="116.77" cy="226" r="0.9" fill="#d5e0de"/>
<circle cx="117.85" cy="228" r="0.9" fill="#d5e0de"/>
<circle cx="118.92" cy="230" r="0.9" fill="#d5e0de"/>
<circle cx="120" cy="232" r="0.9" fill="#d5e0de"/>
<circle cx="11.99" cy="304.56" r="1.11" fill="#0e1618"/>
<circle cx="95.04" cy="246" r="1.33" fill="#0e1618"/>
<circle cx="38.54" cy="209.83" r="1.16" fill="#0e1618"/>
<circle cx="94.42" cy="229.63" r="0.98" fill="#0e1618"/>
<circle cx="49.07" cy="188.73" r="1.05" fill="#0e1618"/>
<circle cx="67.6" cy="262.47" r="1.28" fill="#0e1618"/>
<circle cx="34.22" cy="177.07" r="0.82" fill="#0e1618"/>
<circle cx="40" cy="205.22" r="1.26" fill="#0e1618"/>
<circle cx="31.31" cy="297.95" r="1.28" fill="#0e1618"/>
<circle cx="78.16" cy="293.63" r="1.22" fill="#0e1618"/>
<circle cx="50.34" cy="223.58" r="0.85" fill="#0e1618"/>
<circle cx="93.74" cy="255.02" r="0.88" fill="#0e1618"/>
<circle cx="109.34" cy="268.45" r="1.3" fill="#0e1618"/>
<circle cx="51.76" cy="193.68" r="1.6" fill="#0e1618"/>
<circle cx="19.84" cy="233.06" r="1.6" fill="#0e1618"/>
<circle cx="14.41" cy="254.92" r="1.18" fill="#0e1618"/>
<circle cx="29.22" cy="324.64" r="1.13" fill="#0e1618"/>
<circle cx="1.37" cy="250.66" r="0.8" fill="#0e1618"/>
<circle cx="83.6" cy="315.52" r="1.52" fill="#0e1618"/>
<circle cx="5.66" cy="283.74" r="1.04" fill="#0e1618"/>
<circle cx="55.77" cy="222.27" r="1.04" fill="#0e1618"/>
<circle cx="15.66" cy="275.62" r="0.87" fill="#0e1618"/>
<circle cx="113.77" cy="180.19" r="1.57" fill="#0e1618"/>
<circle cx="22.6" cy="186.69" r="1.4" fill="#0e1618"/>
<circle cx="62.64" cy="299.1" r="1.21" fill="#0e1618"/>
<circle cx="74.4" cy="186.56" r="1.34" fill="#0e1618"/>
<circle cx="60.47" cy="330.8" r="0.8" fill="#0e1618"/>
<circle cx="8.06" cy="283.91" r="1.54" fill="#0e1618"/>
<circle cx="49.76" cy="289.59" r="1.25" fill="#0e1618"/>
<circle cx="46.13" cy="249.33" r="1.28" fill="#0e1618"/>
<circle cx="3.41" cy="223.12" r="1.39" fill="#0e1618"/>
<circle cx="30.46" cy="250.6" r="1.01" fill="#0e1618"/>
<circle cx="42.2" cy="279.69" r="1.39" fill="#0e1618"/>
<circle cx="112.91" cy="251.2" r="0.96" fill="#0e1618"/>
<circle cx="39.76" cy="182.59" r="0.99" fill="#0e1618"/>
<circle cx="68.98" cy="273.22" r="0.99" fill="#0e1618"/>
<circle cx="21.43" cy="189.08" r="0.94" fill="#0e1618"/>
<circle cx="59.17" cy="214.85" r="1.51" fill="#0e1618"/>
<circle cx="66.65" cy="228.79" r="1.14" fill="#0e1618"/>
<circle cx="4.72" cy="293.19" r="1.4" fill="#0e1618"/>
<circle cx="42.91" cy="291.98" r="1.02" fill="#0e1618"/>
<circle cx="25.9" cy="210.43" r="0.96" fill="#0e1618"/>
<circle cx="71.49" cy="278.31" r="1.38" fill="#0e1618"/>
<circle cx="12.24" cy="298.67" r="1.18" fill="#0e1618"/>
<circle cx="44.66" cy="255.5" r="1.15" fill="#0e1618"/>
<circle cx="23.61" cy="237.78" r="1.32" fill="#0e1618"/>
<circle cx="84.4" cy="323.06" r="0.96" fill="#0e1618"/>
<circle cx="105.14" cy="304.26" r="1.37" fill="#0e1618"/>
<circle cx="115.58" cy="195.61" r="1.42" fill="#0e1618"/>
<circle cx="106.13" cy="193.01" r="1.28" fill="#0e1618"/>
<circle cx="111.75" cy="221.06" r="1.48" fill="#0e1618"/>
<circle cx="106.95" cy="244.36" r="0.92" fill="#0e1618"/>
<circle cx="25.43" cy="309.09" r="1.14" fill="#0e1618"/>
<circle cx="37.25" cy="245.64" r="1.54" fill="#0e1618"/>
<circle cx="29.97" cy="176" r="1.56" fill="#0e1618"/>
<circle cx="37.4" cy="236.22" r="1.58" fill="#0e1618"/>
<circle cx="33.26" cy="187.06" r="1.51" fill="#0e1618"/>
<circle cx="28.78" cy="209.34" r="1.55" fill="#0e1618"/>
<circle cx="27.06" cy="320.79" r="1.07" fill="#0e1618"/>
<circle cx="35.78" cy="208.4" r="1.23" fill="#0e1618"/>
<circle cx="66.1" cy="238.33" r="1.21" fill="#0e1618"/>
<circle cx="35.18" cy="310.38" r="1.55" fill="#0e1618"/>
<circle cx="88.86" cy="307.44" r="0.86" fill="#0e1618"/>
<circle cx="29.54" cy="206.41" r="0.92" fill="#0e1618"/>
<circle cx="114.28" cy="321.46" r="1.53" fill="#0e1618"/>
<circle cx="65.82" cy="192.11" r="1.14" fill="#0e1618"/>
<circle cx="6.63" cy="321.36" r="1.01" fill="#0e1618"/>
<circle cx="34" cy="328.11" r="0.96" fill="#0e1618"/>
<circle cx="108.87" cy="224.03" r="1.33" fill="#0e1618"/>
<circle cx="12.59" cy="320.33" r="1.12" fill="#0e1618"/>
<circle cx="89.02" cy="280.32" r="1.16" fill="#f2f6f5"/>
<circle cx="64.75" cy="193.37" r="1.15" fill="#f2f6f5"/>
<circle cx="6.37" cy="315.92" r="1.01" fill="#f2f6f5"/>
<circle cx="43.75" cy="226.77" r="0.87" fill="#f2f6f5"/>
<circle cx="81.69" cy="262.09" r="1.04" fill="#f2f6f5"/>
<circle cx="86.23" cy="220.69" r="1.09" fill="#f2f6f5"/>
<circle cx="200.9" cy="244.79" r="1.26" fill="#f2f6f5"/>
<circle cx="124.53" cy="192.74" r="0.9" fill="#f2f6f5"/>
<circle cx="218.69" cy="251.6" r="1.03" fill="#f2f6f5"/>
<circle cx="133.04" cy="311.78" r="1.03" fill="#f2f6f5"/>
<circle cx="93.29" cy="233.02" r="0.81" fill="#f2f6f5"/>
<circle cx="140.57" cy="251.58" r="1.1" fill="#f2f6f5"/>
<circle cx="116.51" cy="250.48" r="1.23" fill="#f2f6f5"/>
<circle cx="48.02" cy="333.95" r="0.87" fill="#f2f6f5"/>
<circle cx="223.51" cy="201.71" r="1.28" fill="#f2f6f5"/>
<circle cx="67.21" cy="185.83" r="1.12" fill="#f2f6f5"/>
<circle cx="216.46" cy="311.66" r="1.33" fill="#f2f6f5"/>
<circle cx="252.76" cy="181.72" r="1.03" fill="#f2f6f5"/>
<circle cx="154.4" cy="296.85" r="0.83" fill="#1c2626"/>
<circle cx="228.31" cy="303.5" r="1.1" fill="#1c2626"/>
<circle cx="220.51" cy="316.53" r="0.87" fill="#1c2626"/>
<circle cx="151.36" cy="319.14" r="0.65" fill="#1c2626"/>
<circle cx="151.95" cy="309.17" r="0.74" fill="#1c2626"/>
<circle cx="218.84" cy="177.69" r="0.71" fill="#1c2626"/>
<circle cx="225.02" cy="179.18" r="0.86" fill="#1c2626"/>
<circle cx="250.75" cy="208.15" r="0.95" fill="#1c2626"/>
<circle cx="228.29" cy="274.68" r="0.98" fill="#1c2626"/>
<circle cx="222.99" cy="175.34" r="0.7" fill="#1c2626"/>
<circle cx="204.22" cy="332.06" r="0.71" fill="#1c2626"/>
<circle cx="210.08" cy="194.05" r="1.02" fill="#1c2626"/>
<circle cx="193.64" cy="258.6" r="0.93" fill="#1c2626"/>
<circle cx="157.84" cy="292.52" r="1" fill="#1c2626"/>
<circle cx="241.71" cy="219.15" r="0.72" fill="#1c2626"/>
<circle cx="161.13" cy="320.5" r="0.82" fill="#1c2626"/>
<circle cx="187.22" cy="258.36" r="0.95" fill="#1c2626"/>
<circle cx="178.9" cy="228.15" r="0.98" fill="#1c2626"/>
<circle cx="232.1" cy="221.54" r="0.64" fill="#1c2626"/>
<circle cx="249.66" cy="292.67" r="0.9" fill="#1c2626"/>
<circle cx="188.94" cy="330.25" r="0.82" fill="#1c2626"/>
<circle cx="167.12" cy="189.46" r="0.78" fill="#1c2626"/>
<circle cx="211.69" cy="232.78" r="1.07" fill="#1c2626"/>
<circle cx="217.38" cy="248.14" r="0.93" fill="#1c2626"/>
<circle cx="211.8" cy="274.29" r="0.85" fill="#1c2626"/>
</g>
<rect x="93.3" y="241.3" width="65.4" height="52.3" fill="#0a0808"/>
<ellipse cx="126" cy="268" rx="24" ry="12" fill="#23252e" opacity="0.5"/>
<linearGradient id="b96" gradientUnits="userSpaceOnUse" x1="0" y1="250.5" x2="0" y2="282"><stop offset="0" stop-color="#7a1020"/><stop offset="0.09" stop-color="#f02848"/><stop offset="0.45" stop-color="#f83250"/><stop offset="0.49" stop-color="#e88a28"/><stop offset="0.9" stop-color="#d87a20"/><stop offset="1" stop-color="#3a1808"/></linearGradient>
<rect x="96.4" y="250.5" width="9.4" height="31.5" fill="url(#b96)"/>
<linearGradient id="b112" gradientUnits="userSpaceOnUse" x1="0" y1="250.5" x2="0" y2="282"><stop offset="0" stop-color="#7a1020"/><stop offset="0.09" stop-color="#f02848"/><stop offset="0.59" stop-color="#f83250"/><stop offset="0.63" stop-color="#d87822"/><stop offset="0.9" stop-color="#b8601a"/><stop offset="1" stop-color="#3a1808"/></linearGradient>
<rect x="112.8" y="250.5" width="9.8" height="31.5" fill="url(#b112)"/>
<linearGradient id="b129" gradientUnits="userSpaceOnUse" x1="0" y1="250.5" x2="0" y2="282"><stop offset="0" stop-color="#7a1020"/><stop offset="0.09" stop-color="#f02848"/><stop offset="0.77" stop-color="#f83250"/><stop offset="0.81" stop-color="#b05018"/><stop offset="0.9" stop-color="#7a3410"/><stop offset="1" stop-color="#3a1808"/></linearGradient>
<rect x="129.8" y="250.5" width="10.2" height="31.5" fill="url(#b129)"/>
<linearGradient id="b146" gradientUnits="userSpaceOnUse" x1="0" y1="250.5" x2="0" y2="282"><stop offset="0" stop-color="#7a1020"/><stop offset="0.09" stop-color="#f02848"/><stop offset="0.74" stop-color="#f83250"/><stop offset="0.78" stop-color="#982c20"/><stop offset="0.9" stop-color="#5a2010"/><stop offset="1" stop-color="#3a1808"/></linearGradient>
<rect x="146.8" y="250.5" width="10.4" height="31.5" fill="url(#b146)"/>
<polygon points="103.86,276.36 69.2,280.33 68.86,277.4 60.4,282.6 69.82,285.75 69.48,282.82 104.14,278.84" fill="#ffffff"/>
<polygon points="153.05,266.83 184.93,273.25 184.35,276.14 194,273.8 186.01,267.91 185.42,270.8 153.55,264.37" fill="#ffffff"/>
<rect x="208" y="329.2" width="43.3" height="2.6" fill="#ffffff"/>
<text class="sf" x="233.5" y="325.5" font-size="11.5" font-weight="bold" fill="#ffffff" text-anchor="middle">5 µm</text>
<g clip-path="url(#plotclip)">
<polyline points="319.01,290.57 320.11,290.44 321.22,290.31 322.32,290.17 323.42,290.04 324.53,289.9 325.63,289.76 326.73,289.62 327.84,289.47 328.94,289.33 330.05,289.18 331.15,289.02 332.25,288.87 333.36,288.72 334.46,288.56 335.56,288.4 336.67,288.23 337.77,288.07 338.87,287.89 339.98,287.71 341.08,287.52 342.18,287.33 343.29,287.14 344.39,286.94 345.5,286.74 346.6,286.54 347.7,286.34 348.81,286.14 349.91,285.94 351.01,285.74 352.12,285.55 353.22,285.36 354.32,285.17 355.43,284.99 356.53,284.81 357.64,284.64 358.74,284.47 359.84,284.32 360.95,284.16 362.05,284.01 363.15,283.87 364.26,283.72 365.36,283.58 366.46,283.44 367.57,283.3 368.67,283.16 369.78,283.03 370.88,282.9 371.98,282.77 373.09,282.64 374.19,282.51 375.29,282.39 376.4,282.26 377.5,282.14 378.6,282.01 379.71,281.89 380.81,281.77 381.92,281.65 383.02,281.53 384.12,281.39 385.23,281.26 386.33,281.12 387.43,280.99 388.54,280.86 389.64,280.75 390.74,280.65 391.85,280.57 392.95,280.51 394.06,280.48 395.16,280.44 396.26,280.41 397.37,280.38 398.47,280.36 399.57,280.33 400.68,280.31 401.78,280.3 402.88,280.28 403.99,280.28 405.09,280.27 406.2,280.27 407.3,280.29 408.4,280.31 409.51,280.35 410.61,280.39 411.71,280.45 412.82,280.51 413.92,280.58 415.02,280.66 416.13,280.74 417.23,280.83 418.34,280.92 419.44,281.01 420.54,281.11 421.65,281.21 422.75,281.31 423.85,281.41 424.96,281.51 426.06,281.64 427.16,281.77 428.27,281.92 429.37,282.08 430.47,282.25 431.58,282.43 432.68,282.62 433.79,282.82 434.89,283.02 435.99,283.23 437.1,283.45 438.2,283.66 439.3,283.88 440.41,284.1 441.51,284.31 442.61,284.53 443.72,284.74 444.82,284.95 445.93,285.16 447.03,285.36 448.13,285.55 449.24,285.76 450.34,285.96 451.44,286.16 452.55,286.37 453.65,286.57 454.75,286.78 455.86,286.98 456.96,287.19 458.07,287.4 459.17,287.61 460.27,287.82 461.38,288.02 462.48,288.23 463.58,288.44 464.69,288.64 465.79,288.85 466.89,289.06 468,289.27 469.1,289.48 470.21,289.69 471.31,289.9 472.41,290.11 473.52,290.32 474.62,290.53 475.72,290.74 476.83,290.94 477.93,291.15 479.03,291.35 480.14,291.56 481.24,291.76 482.35,291.96 483.45,292.15 484.55,292.35 485.66,292.54 486.76,292.73 487.86,292.92 488.97,293.11 490.07,293.3 491.17,293.48 492.28,293.66 493.38,293.85 494.49,294.03 495.59,294.21 496.69,294.4 497.8,294.58 498.9,294.76 500,294.95 501.11,295.13 502.21,295.31 503.31,295.5 504.42,295.68 505.52,295.87 506.63,296.05 507.73,296.24 508.83,296.42 509.94,296.6 511.04,296.79 512.14,296.97 513.25,297.16 514.35,297.34 515.45,297.52 516.56,297.71 517.66,297.89 518.76,298.07 519.87,298.25 520.97,298.44 522.08,298.62 523.18,298.8 524.28,298.99 525.39,299.17 526.49,299.35 527.59,299.53 528.7,299.71 529.8,299.9 530.9,300.08 532.01,300.26 533.11,300.44 534.22,300.62 534.29,300.63" fill="none" stroke="#a59a5e" stroke-width="1.2" stroke-linejoin="round"/>
<polyline points="319.01,307.27 320.11,307.23 321.22,307.18 322.32,307.13 323.42,307.07 324.53,307.01 325.63,306.94 326.73,306.87 327.84,306.79 328.94,306.71 330.05,306.63 331.15,306.54 332.25,306.44 333.36,306.35 334.46,306.25 335.56,306.15 336.67,306.04 337.77,305.93 338.87,305.82 339.98,305.71 341.08,305.59 342.18,305.48 343.29,305.36 344.39,305.24 345.5,305.11 346.6,304.99 347.7,304.86 348.81,304.71 349.91,304.55 351.01,304.38 352.12,304.2 353.22,304 354.32,303.8 355.43,303.6 356.53,303.38 357.64,303.17 358.74,302.95 359.84,302.73 360.95,302.51 362.05,302.3 363.15,302.09 364.26,301.88 365.36,301.68 366.46,301.49 367.57,301.31 368.67,301.14 369.78,300.98 370.88,300.83 371.98,300.69 373.09,300.55 374.19,300.41 375.29,300.27 376.4,300.14 377.5,300 378.6,299.87 379.71,299.74 380.81,299.61 381.92,299.49 383.02,299.37 384.12,299.25 385.23,299.15 386.33,299.04 387.43,298.95 388.54,298.86 389.64,298.78 390.74,298.71 391.85,298.64 392.95,298.59 394.06,298.54 395.16,298.5 396.26,298.45 397.37,298.41 398.47,298.37 399.57,298.33 400.68,298.29 401.78,298.25 402.88,298.22 403.99,298.19 405.09,298.17 406.2,298.15 407.3,298.13 408.4,298.12 409.51,298.12 410.61,298.12 411.71,298.13 412.82,298.15 413.92,298.19 415.02,298.23 416.13,298.28 417.23,298.34 418.34,298.4 419.44,298.48 420.54,298.55 421.65,298.63 422.75,298.72 423.85,298.81 424.96,298.9 426.06,298.99 427.16,299.09 428.27,299.18 429.37,299.27 430.47,299.36 431.58,299.45 432.68,299.54 433.79,299.64 434.89,299.74 435.99,299.84 437.1,299.95 438.2,300.06 439.3,300.18 440.41,300.3 441.51,300.43 442.61,300.56 443.72,300.69 444.82,300.82 445.93,300.96 447.03,301.09 448.13,301.23 449.24,301.37 450.34,301.51 451.44,301.65 452.55,301.79 453.65,301.93 454.75,302.07 455.86,302.21 456.96,302.34 458.07,302.48 459.17,302.61 460.27,302.74 461.38,302.87 462.48,302.99 463.58,303.11 464.69,303.23 465.79,303.34 466.89,303.46 468,303.57 469.1,303.69 470.21,303.8 471.31,303.92 472.41,304.03 473.52,304.14 474.62,304.25 475.72,304.36 476.83,304.47 477.93,304.58 479.03,304.69 480.14,304.8 481.24,304.91 482.35,305.02 483.45,305.12 484.55,305.23 485.66,305.34 486.76,305.44 487.86,305.55 488.97,305.66 490.07,305.76 491.17,305.87 492.28,305.97 493.38,306.08 494.49,306.18 495.59,306.29 496.69,306.39 497.8,306.49 498.9,306.6 500,306.7 501.11,306.8 502.21,306.91 503.31,307.01 504.42,307.11 505.52,307.22 506.63,307.32 507.73,307.42 508.83,307.52 509.94,307.62 511.04,307.72 512.14,307.83 513.25,307.93 514.35,308.03 515.45,308.13 516.56,308.23 517.66,308.32 518.76,308.42 519.87,308.52 520.97,308.62 522.08,308.72 523.18,308.82 524.28,308.91 525.39,309.01 526.49,309.11 527.59,309.21 528.7,309.3 529.8,309.4 530.9,309.49 532.01,309.59 533.11,309.68 534.22,309.78 534.29,309.79" fill="none" stroke="#a59a5e" stroke-width="1.2" stroke-linejoin="round"/>
<polyline points="319.01,295.14 320.11,295.04 321.22,294.94 322.32,294.83 323.42,294.72 324.53,294.61 325.63,294.49 326.73,294.37 327.84,294.25 328.94,294.12 330.05,293.99 331.15,293.85 332.25,293.72 333.36,293.58 334.46,293.44 335.56,293.29 336.67,293.14 337.77,293 338.87,292.84 339.98,292.69 341.08,292.53 342.18,292.37 343.29,292.21 344.39,292.05 345.5,291.89 346.6,291.72 347.7,291.55 348.81,291.38 349.91,291.19 351.01,291.01 352.12,290.81 353.22,290.62 354.32,290.42 355.43,290.21 356.53,290 357.64,289.79 358.74,289.57 359.84,289.35 360.95,289.13 362.05,288.91 363.15,288.68 364.26,288.46 365.36,288.23 366.46,288 367.57,287.77 368.67,287.54 369.78,287.32 370.88,287.09 371.98,286.85 373.09,286.61 374.19,286.36 375.29,286.1 376.4,285.84 377.5,285.57 378.6,285.3 379.71,285.03 380.81,284.75 381.92,284.48 383.02,284.22 384.12,283.95 385.23,283.69 386.33,283.44 387.43,283.2 388.54,282.97 389.64,282.74 390.74,282.53 391.85,282.34 392.95,282.16 394.06,281.99 395.16,281.83 396.26,281.67 397.37,281.51 398.47,281.37 399.57,281.22 400.68,281.09 401.78,280.96 402.88,280.84 403.99,280.73 405.09,280.63 406.2,280.54 407.3,280.46 408.4,280.38 409.51,280.32 410.61,280.26 411.71,280.21 412.82,280.16 413.92,280.12 415.02,280.08 416.13,280.04 417.23,280 418.34,279.96 419.44,279.92 420.54,279.88 421.65,279.84 422.75,279.79 423.85,279.73 424.96,279.67 426.06,279.61 427.16,279.53 428.27,279.45 429.37,279.36 430.47,279.24 431.58,279.1 432.68,278.92 433.79,278.71 434.89,278.47 435.99,278.2 437.1,277.89 438.2,277.55 439.3,277.18 440.41,276.78 441.51,276.31 442.61,275.64 443.72,274.79 444.82,273.78 445.93,272.65 447.03,271.41 448.13,270.1 449.24,268.74 450.34,267.28 451.44,265.58 452.55,263.67 453.65,261.61 454.75,259.47 455.86,257.09 456.96,254.49 458.07,251.8 459.17,249.18 460.27,246.73 461.38,244.41 462.48,242.13 463.58,239.81 464.69,237.37 465.79,234.45 466.89,231.2 468,228.63 469.1,227.29 470.21,226.15 471.31,225.15 472.41,224.31 473.52,223.67 474.62,223.25 475.72,223.07 476.83,223.16 477.93,223.49 479.03,224.02 480.14,224.74 481.24,225.62 482.35,226.63 483.45,227.76 484.55,228.97 485.66,230.25 486.76,232.03 487.86,234.49 488.97,237.44 490.07,240.64 491.17,243.91 492.28,247.02 493.38,250.19 494.49,253.53 495.59,256.95 496.69,260.37 497.8,263.71 498.9,266.91 500,270.03 501.11,273.1 502.21,276.08 503.31,278.94 504.42,281.76 505.52,284.6 506.63,287.32 507.73,289.8 508.83,291.92 509.94,293.71 511.04,295.39 512.14,296.94 513.25,298.35 514.35,299.61 515.45,300.7 516.56,301.6 517.66,302.39 518.76,303.11 519.87,303.78 520.97,304.39 522.08,304.94 523.18,305.43 524.28,305.86 525.39,306.24 526.49,306.57 527.59,306.89 528.7,307.19 529.8,307.47 530.9,307.71 532.01,307.91 533.11,308.07 534.22,308.18 534.29,308.18" fill="none" stroke="#e53c5c" stroke-width="1.1" stroke-linejoin="round"/>
<polyline points="319.01,298.57 320.11,298.49 321.22,298.41 322.32,298.33 323.42,298.24 324.53,298.15 325.63,298.05 326.73,297.96 327.84,297.86 328.94,297.75 330.05,297.65 331.15,297.54 332.25,297.43 333.36,297.32 334.46,297.21 335.56,297.09 336.67,296.98 337.77,296.86 338.87,296.73 339.98,296.61 341.08,296.49 342.18,296.36 343.29,296.23 344.39,296.1 345.5,295.97 346.6,295.84 347.7,295.7 348.81,295.56 349.91,295.4 351.01,295.25 352.12,295.08 353.22,294.92 354.32,294.74 355.43,294.57 356.53,294.39 357.64,294.21 358.74,294.03 359.84,293.85 360.95,293.66 362.05,293.48 363.15,293.3 364.26,293.12 365.36,292.95 366.46,292.78 367.57,292.61 368.67,292.45 369.78,292.29 370.88,292.14 371.98,291.99 373.09,291.86 374.19,291.73 375.29,291.6 376.4,291.48 377.5,291.36 378.6,291.25 379.71,291.13 380.81,291.02 381.92,290.9 383.02,290.78 384.12,290.66 385.23,290.54 386.33,290.41 387.43,290.28 388.54,290.14 389.64,289.99 390.74,289.83 391.85,289.66 392.95,289.48 394.06,289.29 395.16,289.06 396.26,288.8 397.37,288.51 398.47,288.21 399.57,287.89 400.68,287.57 401.78,287.25 402.88,286.93 403.99,286.63 405.09,286.35 406.2,286.1 407.3,285.87 408.4,285.67 409.51,285.48 410.61,285.31 411.71,285.15 412.82,284.99 413.92,284.85 415.02,284.71 416.13,284.57 417.23,284.43 418.34,284.29 419.44,284.15 420.54,284 421.65,283.85 422.75,283.68 423.85,283.5 424.96,283.3 426.06,283.09 427.16,282.86 428.27,282.61 429.37,282.33 430.47,282 431.58,281.6 432.68,281.14 433.79,280.62 434.89,280.04 435.99,279.42 437.1,278.75 438.2,278.05 439.3,277.32 440.41,276.56 441.51,275.77 442.61,274.86 443.72,273.82 444.82,272.7 445.93,271.53 447.03,270.33 448.13,269.14 449.24,267.98 450.34,266.82 451.44,265.51 452.55,264.16 453.65,262.89 454.75,261.8 455.86,261.02 456.96,260.58 458.07,260.2 459.17,259.88 460.27,259.63 461.38,259.48 462.48,259.46 463.58,259.57 464.69,259.82 465.79,260.18 466.89,260.64 468,261.19 469.1,261.8 470.21,262.46 471.31,263.15 472.41,263.97 473.52,265.12 474.62,266.53 475.72,268.09 476.83,269.69 477.93,271.23 479.03,272.64 480.14,274.03 481.24,275.41 482.35,276.81 483.45,278.23 484.55,279.68 485.66,281.18 486.76,282.77 487.86,284.41 488.97,286.05 490.07,287.66 491.17,289.19 492.28,290.61 493.38,292.03 494.49,293.47 495.59,294.9 496.69,296.28 497.8,297.56 498.9,298.71 500,299.68 501.11,300.44 502.21,300.98 503.31,301.46 504.42,301.88 505.52,302.25 506.63,302.58 507.73,302.88 508.83,303.16 509.94,303.42 511.04,303.68 512.14,303.93 513.25,304.17 514.35,304.42 515.45,304.66 516.56,304.9 517.66,305.13 518.76,305.36 519.87,305.57 520.97,305.79 522.08,305.99 523.18,306.18 524.28,306.37 525.39,306.54 526.49,306.71 527.59,306.86 528.7,307 529.8,307.13 530.9,307.24 532.01,307.34 533.11,307.43 534.22,307.49 534.29,307.5" fill="none" stroke="#e53c5c" stroke-width="1.1" stroke-linejoin="round"/>
<polyline points="319.01,308.87 320.11,308.84 321.22,308.82 322.32,308.79 323.42,308.75 324.53,308.72 325.63,308.68 326.73,308.65 327.84,308.61 328.94,308.57 330.05,308.52 331.15,308.48 332.25,308.43 333.36,308.38 334.46,308.34 335.56,308.29 336.67,308.24 337.77,308.18 338.87,308.13 339.98,308.07 341.08,308.02 342.18,307.96 343.29,307.91 344.39,307.85 345.5,307.79 346.6,307.73 347.7,307.67 348.81,307.6 349.91,307.53 351.01,307.46 352.12,307.38 353.22,307.3 354.32,307.22 355.43,307.13 356.53,307.04 357.64,306.95 358.74,306.86 359.84,306.77 360.95,306.68 362.05,306.59 363.15,306.49 364.26,306.4 365.36,306.31 366.46,306.22 367.57,306.13 368.67,306.05 369.78,305.96 370.88,305.88 371.98,305.8 373.09,305.72 374.19,305.64 375.29,305.57 376.4,305.49 377.5,305.42 378.6,305.34 379.71,305.27 380.81,305.2 381.92,305.12 383.02,305.05 384.12,304.97 385.23,304.9 386.33,304.82 387.43,304.74 388.54,304.66 389.64,304.58 390.74,304.5 391.85,304.41 392.95,304.32 394.06,304.23 395.16,304.14 396.26,304.05 397.37,303.96 398.47,303.87 399.57,303.78 400.68,303.68 401.78,303.59 402.88,303.49 403.99,303.39 405.09,303.29 406.2,303.19 407.3,303.08 408.4,302.98 409.51,302.87 410.61,302.76 411.71,302.64 412.82,302.52 413.92,302.4 415.02,302.28 416.13,302.15 417.23,302.02 418.34,301.88 419.44,301.75 420.54,301.61 421.65,301.47 422.75,301.33 423.85,301.17 424.96,300.99 426.06,300.8 427.16,300.59 428.27,300.36 429.37,300.1 430.47,299.78 431.58,299.38 432.68,298.92 433.79,298.4 434.89,297.83 435.99,297.23 437.1,296.59 438.2,295.92 439.3,295.13 440.41,294.24 441.51,293.26 442.61,292.22 443.72,291.14 444.82,290.03 445.93,288.92 447.03,287.83 448.13,286.78 449.24,285.79 450.34,284.83 451.44,283.84 452.55,282.84 453.65,281.85 454.75,280.91 455.86,280.05 456.96,279.29 458.07,278.67 459.17,278.12 460.27,277.57 461.38,277.05 462.48,276.58 463.58,276.18 464.69,275.89 465.79,275.72 466.89,275.7 468,275.71 469.1,275.75 470.21,275.8 471.31,275.86 472.41,275.94 473.52,276.03 474.62,276.12 475.72,276.23 476.83,276.4 477.93,276.63 479.03,276.9 480.14,277.23 481.24,277.59 482.35,278 483.45,278.43 484.55,278.9 485.66,279.39 486.76,280.01 487.86,280.8 488.97,281.72 490.07,282.69 491.17,283.65 492.28,284.57 493.38,285.47 494.49,286.39 495.59,287.32 496.69,288.25 497.8,289.19 498.9,290.11 500,291.01 501.11,291.88 502.21,292.73 503.31,293.58 504.42,294.42 505.52,295.25 506.63,296.06 507.73,296.84 508.83,297.59 509.94,298.31 511.04,298.98 512.14,299.64 513.25,300.29 514.35,300.92 515.45,301.53 516.56,302.1 517.66,302.63 518.76,303.1 519.87,303.51 520.97,303.87 522.08,304.22 523.18,304.56 524.28,304.88 525.39,305.2 526.49,305.49 527.59,305.77 528.7,306.02 529.8,306.24 530.9,306.44 532.01,306.6 533.11,306.72 534.22,306.81 534.29,306.81" fill="none" stroke="#e53c5c" stroke-width="1.1" stroke-linejoin="round"/>
<polyline points="319.01,306.58 320.11,306.55 321.22,306.46 322.32,306.3 323.42,306.1 324.53,305.84 325.63,305.54 326.73,305.2 327.84,304.81 328.94,304.4 330.05,303.95 331.15,303.48 332.25,302.98 333.36,302.47 334.46,301.94 335.56,301.41 336.67,300.86 337.77,300.26 338.87,299.56 339.98,298.77 341.08,297.88 342.18,296.91 343.29,295.85 344.39,294.72 345.5,293.52 346.6,292.26 347.7,290.93 348.81,289.48 349.91,287.78 351.01,285.86 352.12,283.78 353.22,281.57 354.32,279.29 355.43,276.99 356.53,274.69 357.64,272.27 358.74,269.75 359.84,267.14 360.95,264.47 362.05,261.76 363.15,259.04 364.26,256.25 365.36,253.39 366.46,250.49 367.57,247.58 368.67,244.69 369.78,241.77 370.88,238.82 371.98,235.85 373.09,232.88 374.19,229.92 375.29,226.98 376.4,224.09 377.5,221.26 378.6,218.49 379.71,215.79 380.81,213.13 381.92,210.52 383.02,207.96 384.12,205.46 385.23,203.03 386.33,200.57 387.43,198 388.54,195.42 389.64,192.93 390.74,190.64 391.85,188.67 392.95,187.1 394.06,185.93 395.16,184.81 396.26,183.76 397.37,182.79 398.47,181.95 399.57,181.28 400.68,180.8 401.78,180.54 402.88,180.55 403.99,180.79 405.09,181.25 406.2,181.89 407.3,182.69 408.4,183.62 409.51,184.65 410.61,185.75 411.71,186.9 412.82,188.08 413.92,189.59 415.02,191.48 416.13,193.65 417.23,195.96 418.34,198.31 419.44,200.57 420.54,202.8 421.65,205.11 422.75,207.47 423.85,209.87 424.96,212.29 426.06,214.71 427.16,217.11 428.27,219.48 429.37,221.82 430.47,224.16 431.58,226.5 432.68,228.83 433.79,231.15 434.89,233.47 435.99,235.78 437.1,238.09 438.2,240.4 439.3,242.75 440.41,245.12 441.51,247.5 442.61,249.87 443.72,252.23 444.82,254.55 445.93,256.83 447.03,259.04 448.13,261.18 449.24,263.23 450.34,265.2 451.44,267.15 452.55,269.06 453.65,270.9 454.75,272.67 455.86,274.32 456.96,275.83 458.07,277.18 459.17,278.4 460.27,279.5 461.38,280.53 462.48,281.52 463.58,282.49 464.69,283.46 465.79,284.42 466.89,285.35 468,286.27 469.1,287.16 470.21,288.02 471.31,288.86 472.41,289.66 473.52,290.44 474.62,291.19 475.72,291.93 476.83,292.64 477.93,293.34 479.03,294 480.14,294.65 481.24,295.26 482.35,295.84 483.45,296.38 484.55,296.92 485.66,297.45 486.76,297.98 487.86,298.49 488.97,298.99 490.07,299.47 491.17,299.95 492.28,300.41 493.38,300.86 494.49,301.29 495.59,301.7 496.69,302.1 497.8,302.48 498.9,302.84 500,303.18 501.11,303.51 502.21,303.81 503.31,304.1 504.42,304.38 505.52,304.66 506.63,304.93 507.73,305.18 508.83,305.43 509.94,305.67 511.04,305.9 512.14,306.12 513.25,306.34 514.35,306.55 515.45,306.74 516.56,306.93 517.66,307.12 518.76,307.29 519.87,307.45 520.97,307.61 522.08,307.77 523.18,307.92 524.28,308.06 525.39,308.2 526.49,308.34 527.59,308.47 528.7,308.59 529.8,308.71 530.9,308.81 532.01,308.92 533.11,309.01 534.22,309.09 534.29,309.1" fill="none" stroke="#5cdc42" stroke-width="1.1" stroke-linejoin="round"/>
<polyline points="319.01,246.87 320.11,244.25 321.22,241.68 322.32,239.18 323.42,236.72 324.53,234.3 325.63,231.91 326.73,229.55 327.84,227.21 328.94,224.9 330.05,222.6 331.15,220.33 332.25,218.01 333.36,215.64 334.46,213.27 335.56,210.92 336.67,208.62 337.77,206.41 338.87,204.32 339.98,202.38 341.08,200.64 342.18,198.98 343.29,197.26 344.39,195.52 345.5,193.83 346.6,192.24 347.7,190.81 348.81,189.59 349.91,188.66 351.01,188.05 352.12,187.84 353.22,187.98 354.32,188.38 355.43,189.02 356.53,189.86 357.64,190.88 358.74,192.05 359.84,193.34 360.95,194.72 362.05,196.17 363.15,197.65 364.26,199.14 365.36,200.61 366.46,202.05 367.57,203.65 368.67,205.45 369.78,207.4 370.88,209.43 371.98,211.5 373.09,213.57 374.19,215.58 375.29,217.47 376.4,219.29 377.5,221.09 378.6,222.86 379.71,224.62 380.81,226.37 381.92,228.11 383.02,229.84 384.12,231.58 385.23,233.32 386.33,235.07 387.43,236.83 388.54,238.56 389.64,240.3 390.74,242.06 391.85,243.87 392.95,245.75 394.06,247.69 395.16,249.69 396.26,251.71 397.37,253.74 398.47,255.76 399.57,257.76 400.68,259.7 401.78,261.59 402.88,263.41 403.99,265.24 405.09,267.06 406.2,268.85 407.3,270.59 408.4,272.26 409.51,273.83 410.61,275.29 411.71,276.62 412.82,277.86 413.92,279.03 415.02,280.15 416.13,281.22 417.23,282.25 418.34,283.25 419.44,284.24 420.54,285.21 421.65,286.19 422.75,287.18 423.85,288.19 424.96,289.2 426.06,290.2 427.16,291.17 428.27,292.09 429.37,292.97 430.47,293.77 431.58,294.48 432.68,295.1 433.79,295.65 434.89,296.16 435.99,296.64 437.1,297.09 438.2,297.52 439.3,297.92 440.41,298.29 441.51,298.65 442.61,298.98 443.72,299.3 444.82,299.6 445.93,299.89 447.03,300.15 448.13,300.4 449.24,300.63 450.34,300.85 451.44,301.06 452.55,301.26 453.65,301.46 454.75,301.66 455.86,301.87 456.96,302.08 458.07,302.31 459.17,302.55 460.27,302.8 461.38,303.06 462.48,303.33 463.58,303.61 464.69,303.89 465.79,304.18 466.89,304.46 468,304.73 469.1,305 470.21,305.26 471.31,305.51 472.41,305.74 473.52,305.95 474.62,306.16 475.72,306.35 476.83,306.55 477.93,306.74 479.03,306.92 480.14,307.1 481.24,307.27 482.35,307.44 483.45,307.61 484.55,307.77 485.66,307.93 486.76,308.08 487.86,308.24 488.97,308.39 490.07,308.53 491.17,308.68 492.28,308.83 493.38,308.97 494.49,309.11 495.59,309.25 496.69,309.39 497.8,309.52 498.9,309.66 500,309.79 501.11,309.92 502.21,310.05 503.31,310.17 504.42,310.3 505.52,310.42 506.63,310.54 507.73,310.65 508.83,310.76 509.94,310.87 511.04,310.98 512.14,311.08 513.25,311.18 514.35,311.28 515.45,311.38 516.56,311.48 517.66,311.57 518.76,311.66 519.87,311.76 520.97,311.84 522.08,311.93 523.18,312.02 524.28,312.1 525.39,312.18 526.49,312.26 527.59,312.34 528.7,312.42 529.8,312.49 530.9,312.56 532.01,312.63 533.11,312.69 534.22,312.76 534.29,312.76" fill="none" stroke="#5cdc42" stroke-width="0.85" stroke-dasharray="4.5 3" stroke-linejoin="round"/>
<polyline points="319.01,289.42 320.11,288.76 321.22,288.1 322.32,287.44 323.42,286.79 324.53,286.14 325.63,285.5 326.73,284.86 327.84,284.23 328.94,283.61 330.05,282.99 331.15,282.37 332.25,281.76 333.36,281.15 334.46,280.55 335.56,279.95 336.67,279.36 337.77,278.78 338.87,278.25 339.98,277.73 341.08,277.24 342.18,276.74 343.29,276.25 344.39,275.74 345.5,275.21 346.6,274.65 347.7,274.05 348.81,273.4 349.91,272.69 351.01,271.91 352.12,271.02 353.22,270.05 354.32,268.98 355.43,267.85 356.53,266.64 357.64,265.38 358.74,264.06 359.84,262.68 360.95,261.11 362.05,259.37 363.15,257.53 364.26,255.62 365.36,253.69 366.46,251.81 367.57,250.03 368.67,248.38 369.78,246.82 370.88,245.32 371.98,243.85 373.09,242.42 374.19,241 375.29,239.61 376.4,238.22 377.5,236.83 378.6,235.43 379.71,234.02 380.81,232.61 381.92,231.21 383.02,229.81 384.12,228.43 385.23,227.06 386.33,225.72 387.43,224.39 388.54,223.03 389.64,221.6 390.74,220.16 391.85,218.77 392.95,217.5 394.06,216.41 395.16,215.57 396.26,214.89 397.37,214.23 398.47,213.62 399.57,213.07 400.68,212.62 401.78,212.29 402.88,212.11 403.99,212.11 405.09,212.3 406.2,212.65 407.3,213.13 408.4,213.71 409.51,214.35 410.61,215.03 411.71,215.7 412.82,216.48 413.92,217.41 415.02,218.48 416.13,219.7 417.23,221.08 418.34,222.89 419.44,225.11 420.54,227.54 421.65,229.98 422.75,232.22 423.85,234.24 424.96,236.18 426.06,238.11 427.16,240.13 428.27,242.28 429.37,244.55 430.47,246.89 431.58,249.25 432.68,251.59 433.79,253.87 434.89,256.07 435.99,258.22 437.1,260.35 438.2,262.51 439.3,264.74 440.41,267.07 441.51,269.57 442.61,272.36 443.72,275.33 444.82,278.35 445.93,281.27 447.03,283.95 448.13,286.27 449.24,288.39 450.34,290.33 451.44,292.05 452.55,293.51 453.65,294.86 454.75,296.11 455.86,297.25 456.96,298.28 458.07,299.18 459.17,299.97 460.27,300.67 461.38,301.33 462.48,301.92 463.58,302.48 464.69,302.98 465.79,303.46 466.89,303.9 468,304.31 469.1,304.71 470.21,305.1 471.31,305.46 472.41,305.82 473.52,306.15 474.62,306.46 475.72,306.75 476.83,307.02 477.93,307.26 479.03,307.48 480.14,307.69 481.24,307.88 482.35,308.06 483.45,308.24 484.55,308.4 485.66,308.56 486.76,308.72 487.86,308.86 488.97,309 490.07,309.14 491.17,309.27 492.28,309.39 493.38,309.51 494.49,309.63 495.59,309.75 496.69,309.86 497.8,309.97 498.9,310.08 500,310.19 501.11,310.3 502.21,310.4 503.31,310.51 504.42,310.61 505.52,310.72 506.63,310.82 507.73,310.92 508.83,311.02 509.94,311.12 511.04,311.22 512.14,311.31 513.25,311.41 514.35,311.5 515.45,311.59 516.56,311.68 517.66,311.76 518.76,311.85 519.87,311.93 520.97,312.01 522.08,312.09 523.18,312.16 524.28,312.23 525.39,312.3 526.49,312.37 527.59,312.43 528.7,312.5 529.8,312.55 530.9,312.61 532.01,312.66 533.11,312.71 534.22,312.76 534.29,312.76" fill="none" stroke="#5cdc42" stroke-width="0.85" stroke-dasharray="4.5 3" stroke-linejoin="round"/>
<polyline points="319.01,314.59 320.11,314.55 321.22,314.5 322.32,314.44 323.42,314.37 324.53,314.3 325.63,314.23 326.73,314.14 327.84,314.06 328.94,313.96 330.05,313.87 331.15,313.77 332.25,313.66 333.36,313.55 334.46,313.44 335.56,313.33 336.67,313.22 337.77,313.1 338.87,312.98 339.98,312.86 341.08,312.72 342.18,312.58 343.29,312.43 344.39,312.27 345.5,312.09 346.6,311.9 347.7,311.7 348.81,311.47 349.91,311.23 351.01,310.95 352.12,310.6 353.22,310.2 354.32,309.73 355.43,309.2 356.53,308.62 357.64,307.99 358.74,307.31 359.84,306.51 360.95,305.58 362.05,304.51 363.15,303.3 364.26,301.94 365.36,300.44 366.46,298.56 367.57,296.3 368.67,293.74 369.78,290.97 370.88,288.07 371.98,285.12 373.09,282.21 374.19,279.16 375.29,275.95 376.4,272.6 377.5,269.2 378.6,265.78 379.71,262.42 380.81,258.99 381.92,255.43 383.02,251.9 384.12,248.57 385.23,245.62 386.33,243.01 387.43,240.5 388.54,238.12 389.64,235.89 390.74,233.84 391.85,232.01 392.95,230.41 394.06,229.03 395.16,227.75 396.26,226.59 397.37,225.56 398.47,224.69 399.57,224.02 400.68,223.47 401.78,222.95 402.88,222.5 403.99,222.15 405.09,221.96 406.2,221.96 407.3,222.25 408.4,222.76 409.51,223.42 410.61,224.14 411.71,224.86 412.82,225.67 413.92,226.62 415.02,227.69 416.13,228.89 417.23,230.21 418.34,231.89 419.44,233.89 420.54,236.03 421.65,238.13 422.75,240 423.85,241.61 424.96,243.07 426.06,244.48 427.16,245.91 428.27,247.45 429.37,249.18 430.47,251.18 431.58,253.36 432.68,255.63 433.79,257.88 434.89,260 435.99,261.93 437.1,263.74 438.2,265.52 439.3,267.35 440.41,269.3 441.51,271.49 442.61,274.02 443.72,276.76 444.82,279.58 445.93,282.34 447.03,284.91 448.13,287.17 449.24,289.28 450.34,291.24 451.44,292.97 452.55,294.41 453.65,295.72 454.75,296.92 455.86,298.02 456.96,299 458.07,299.88 459.17,300.65 460.27,301.35 461.38,302 462.48,302.6 463.58,303.15 464.69,303.67 465.79,304.14 466.89,304.58 468,305 469.1,305.4 470.21,305.79 471.31,306.16 472.41,306.52 473.52,306.85 474.62,307.16 475.72,307.46 476.83,307.72 477.93,307.96 479.03,308.17 480.14,308.36 481.24,308.54 482.35,308.71 483.45,308.87 484.55,309.02 485.66,309.17 486.76,309.31 487.86,309.44 488.97,309.56 490.07,309.68 491.17,309.8 492.28,309.91 493.38,310.02 494.49,310.13 495.59,310.23 496.69,310.33 497.8,310.43 498.9,310.53 500,310.63 501.11,310.73 502.21,310.83 503.31,310.92 504.42,311.02 505.52,311.12 506.63,311.21 507.73,311.3 508.83,311.39 509.94,311.48 511.04,311.57 512.14,311.66 513.25,311.74 514.35,311.83 515.45,311.91 516.56,311.99 517.66,312.07 518.76,312.15 519.87,312.22 520.97,312.3 522.08,312.37 523.18,312.44 524.28,312.5 525.39,312.57 526.49,312.63 527.59,312.69 528.7,312.74 529.8,312.8 530.9,312.85 532.01,312.9 533.11,312.94 534.22,312.99 534.29,312.99" fill="none" stroke="#5cdc42" stroke-width="0.85" stroke-dasharray="4.5 3" stroke-linejoin="round"/>
<polyline points="319.71,247.47 320.81,244.85 321.92,242.28 323.02,239.78 324.12,237.32 325.23,234.9 326.33,232.51 327.43,230.15 328.54,227.81 329.64,225.5 330.75,223.2 331.85,220.93 332.95,218.61 334.06,216.24 335.16,213.87 336.26,211.52 337.37,209.22 338.47,207.01 339.57,204.92 340.68,202.98 341.78,201.24 342.88,199.58 343.99,197.86 345.09,196.12 346.2,194.43 347.3,192.84 348.4,191.41 349.51,190.19 350.61,189.26 351.71,188.65 352.82,188.44 353.92,188.58 355.02,188.98 356.13,189.62 357.23,190.46 358.34,191.48 359.44,192.65 360.54,193.94 361.65,195.32 362.75,196.77 363.85,198.25 364.96,199.74 366.06,201.21 367.16,202.65 368.27,204.25 369.37,206.05 370.48,208 371.58,210.03 372.68,212.1 373.79,214.17 374.89,216.18 375.99,218.07 377.1,219.89 378.2,221.69 379.3,223.46 380.41,225.22 381.51,226.97 382.62,228.71 383.72,230.44 384.82,232.18 385.93,233.92 387.03,235.67 388.13,237.43 389.24,239.16 390.34,240.9 391.44,242.66 392.55,244.47 393.65,246.35 394.76,248.29 395.86,250.29 396.96,252.31 398.07,254.34 399.17,256.36 400.27,258.36 401.38,260.3 402.48,262.19 403.58,264.01 404.69,265.84 405.79,267.66 406.9,269.45 408,271.19 409.1,272.86 410.21,274.43 411.31,275.89 412.41,277.22 413.52,278.46 414.62,279.63 415.72,280.75 416.83,281.82 417.93,282.85 419.04,283.85 420.14,284.84 421.24,285.81 422.35,286.79 423.45,287.78 424.55,288.79 425.66,289.8 426.76,290.8 427.86,291.77 428.97,292.69 430.07,293.57 431.17,294.37 432.28,295.08 433.38,295.7 434.49,296.25 435.59,296.76 436.69,297.24 437.8,297.69 438.9,298.12 440,298.52 441.11,298.89 442.21,299.25 443.31,299.58 444.42,299.9 445.52,300.2 446.63,300.49 447.73,300.75 448.83,301 449.94,301.23 451.04,301.45 452.14,301.66 453.25,301.86 454.35,302.06 455.45,302.26 456.56,302.47 457.66,302.68 458.77,302.91 459.87,303.15 460.97,303.4 462.08,303.66 463.18,303.93 464.28,304.21 465.39,304.49 466.49,304.78 467.59,305.06 468.7,305.33 469.8,305.6 470.91,305.86 472.01,306.11 473.11,306.34 474.22,306.55 475.32,306.76 476.42,306.95 477.53,307.15 478.63,307.34 479.73,307.52 480.84,307.7 481.94,307.87 483.05,308.04 484.15,308.21 485.25,308.37 486.36,308.53 487.46,308.68 488.56,308.84 489.67,308.99 490.77,309.13 491.87,309.28 492.98,309.43 494.08,309.57 495.19,309.71 496.29,309.85 497.39,309.99 498.5,310.12 499.6,310.26 500.7,310.39 501.81,310.52 502.91,310.65 504.01,310.77 505.12,310.9 506.22,311.02 507.33,311.14 508.43,311.25 509.53,311.36 510.64,311.47 511.74,311.58 512.84,311.68 513.95,311.78 515.05,311.88 516.15,311.98 517.26,312.08 518.36,312.17 519.46,312.26 520.57,312.36 521.67,312.44 522.78,312.53 523.88,312.62 524.98,312.7 526.09,312.78 527.19,312.86 528.29,312.94 529.4,313.02 530.5,313.09 531.6,313.16 532.71,313.23 533.81,313.29 534.92,313.36 534.99,313.36" fill="none" stroke="#5cdc42" stroke-width="0.7" stroke-dasharray="4.5 3" stroke-linejoin="round" opacity="0.55"/>
<polyline points="319.71,290.02 320.81,289.36 321.92,288.7 323.02,288.04 324.12,287.39 325.23,286.74 326.33,286.1 327.43,285.46 328.54,284.83 329.64,284.21 330.75,283.59 331.85,282.97 332.95,282.36 334.06,281.75 335.16,281.15 336.26,280.55 337.37,279.96 338.47,279.38 339.57,278.85 340.68,278.33 341.78,277.84 342.88,277.34 343.99,276.85 345.09,276.34 346.2,275.81 347.3,275.25 348.4,274.65 349.51,274 350.61,273.29 351.71,272.51 352.82,271.62 353.92,270.65 355.02,269.58 356.13,268.45 357.23,267.24 358.34,265.98 359.44,264.66 360.54,263.28 361.65,261.71 362.75,259.97 363.85,258.13 364.96,256.22 366.06,254.29 367.16,252.41 368.27,250.63 369.37,248.98 370.48,247.42 371.58,245.92 372.68,244.45 373.79,243.02 374.89,241.6 375.99,240.21 377.1,238.82 378.2,237.43 379.3,236.03 380.41,234.62 381.51,233.21 382.62,231.81 383.72,230.41 384.82,229.03 385.93,227.66 387.03,226.32 388.13,224.99 389.24,223.63 390.34,222.2 391.44,220.76 392.55,219.37 393.65,218.1 394.76,217.01 395.86,216.17 396.96,215.49 398.07,214.83 399.17,214.22 400.27,213.67 401.38,213.22 402.48,212.89 403.58,212.71 404.69,212.71 405.79,212.9 406.9,213.25 408,213.73 409.1,214.31 410.21,214.95 411.31,215.63 412.41,216.3 413.52,217.08 414.62,218.01 415.72,219.08 416.83,220.3 417.93,221.68 419.04,223.49 420.14,225.71 421.24,228.14 422.35,230.58 423.45,232.82 424.55,234.84 425.66,236.78 426.76,238.71 427.86,240.73 428.97,242.88 430.07,245.15 431.17,247.49 432.28,249.85 433.38,252.19 434.49,254.47 435.59,256.67 436.69,258.82 437.8,260.95 438.9,263.11 440,265.34 441.11,267.67 442.21,270.17 443.31,272.96 444.42,275.93 445.52,278.95 446.63,281.87 447.73,284.55 448.83,286.87 449.94,288.99 451.04,290.93 452.14,292.65 453.25,294.11 454.35,295.46 455.45,296.71 456.56,297.85 457.66,298.88 458.77,299.78 459.87,300.57 460.97,301.27 462.08,301.93 463.18,302.52 464.28,303.08 465.39,303.58 466.49,304.06 467.59,304.5 468.7,304.91 469.8,305.31 470.91,305.7 472.01,306.06 473.11,306.42 474.22,306.75 475.32,307.06 476.42,307.35 477.53,307.62 478.63,307.86 479.73,308.08 480.84,308.29 481.94,308.48 483.05,308.66 484.15,308.84 485.25,309 486.36,309.16 487.46,309.32 488.56,309.46 489.67,309.6 490.77,309.74 491.87,309.87 492.98,309.99 494.08,310.11 495.19,310.23 496.29,310.35 497.39,310.46 498.5,310.57 499.6,310.68 500.7,310.79 501.81,310.9 502.91,311 504.01,311.11 505.12,311.21 506.22,311.32 507.33,311.42 508.43,311.52 509.53,311.62 510.64,311.72 511.74,311.82 512.84,311.91 513.95,312.01 515.05,312.1 516.15,312.19 517.26,312.28 518.36,312.36 519.46,312.45 520.57,312.53 521.67,312.61 522.78,312.69 523.88,312.76 524.98,312.83 526.09,312.9 527.19,312.97 528.29,313.03 529.4,313.1 530.5,313.15 531.6,313.21 532.71,313.26 533.81,313.31 534.92,313.36 534.99,313.36" fill="none" stroke="#5cdc42" stroke-width="0.7" stroke-dasharray="4.5 3" stroke-linejoin="round" opacity="0.55"/>
<polyline points="319.71,315.19 320.81,315.15 321.92,315.1 323.02,315.04 324.12,314.97 325.23,314.9 326.33,314.83 327.43,314.74 328.54,314.66 329.64,314.56 330.75,314.47 331.85,314.37 332.95,314.26 334.06,314.15 335.16,314.04 336.26,313.93 337.37,313.82 338.47,313.7 339.57,313.58 340.68,313.46 341.78,313.32 342.88,313.18 343.99,313.03 345.09,312.87 346.2,312.69 347.3,312.5 348.4,312.3 349.51,312.07 350.61,311.83 351.71,311.55 352.82,311.2 353.92,310.8 355.02,310.33 356.13,309.8 357.23,309.22 358.34,308.59 359.44,307.91 360.54,307.11 361.65,306.18 362.75,305.11 363.85,303.9 364.96,302.54 366.06,301.04 367.16,299.16 368.27,296.9 369.37,294.34 370.48,291.57 371.58,288.67 372.68,285.72 373.79,282.81 374.89,279.76 375.99,276.55 377.1,273.2 378.2,269.8 379.3,266.38 380.41,263.02 381.51,259.59 382.62,256.03 383.72,252.5 384.82,249.17 385.93,246.22 387.03,243.61 388.13,241.1 389.24,238.72 390.34,236.49 391.44,234.44 392.55,232.61 393.65,231.01 394.76,229.63 395.86,228.35 396.96,227.19 398.07,226.16 399.17,225.29 400.27,224.62 401.38,224.07 402.48,223.55 403.58,223.1 404.69,222.75 405.79,222.56 406.9,222.56 408,222.85 409.1,223.36 410.21,224.02 411.31,224.74 412.41,225.46 413.52,226.27 414.62,227.22 415.72,228.29 416.83,229.49 417.93,230.81 419.04,232.49 420.14,234.49 421.24,236.63 422.35,238.73 423.45,240.6 424.55,242.21 425.66,243.67 426.76,245.08 427.86,246.51 428.97,248.05 430.07,249.78 431.17,251.78 432.28,253.96 433.38,256.23 434.49,258.48 435.59,260.6 436.69,262.53 437.8,264.34 438.9,266.12 440,267.95 441.11,269.9 442.21,272.09 443.31,274.62 444.42,277.36 445.52,280.18 446.63,282.94 447.73,285.51 448.83,287.77 449.94,289.88 451.04,291.84 452.14,293.57 453.25,295.01 454.35,296.32 455.45,297.52 456.56,298.62 457.66,299.6 458.77,300.48 459.87,301.25 460.97,301.95 462.08,302.6 463.18,303.2 464.28,303.75 465.39,304.27 466.49,304.74 467.59,305.18 468.7,305.6 469.8,306 470.91,306.39 472.01,306.76 473.11,307.12 474.22,307.45 475.32,307.76 476.42,308.06 477.53,308.32 478.63,308.56 479.73,308.77 480.84,308.96 481.94,309.14 483.05,309.31 484.15,309.47 485.25,309.62 486.36,309.77 487.46,309.91 488.56,310.04 489.67,310.16 490.77,310.28 491.87,310.4 492.98,310.51 494.08,310.62 495.19,310.73 496.29,310.83 497.39,310.93 498.5,311.03 499.6,311.13 500.7,311.23 501.81,311.33 502.91,311.43 504.01,311.52 505.12,311.62 506.22,311.72 507.33,311.81 508.43,311.9 509.53,311.99 510.64,312.08 511.74,312.17 512.84,312.26 513.95,312.34 515.05,312.43 516.15,312.51 517.26,312.59 518.36,312.67 519.46,312.75 520.57,312.82 521.67,312.9 522.78,312.97 523.88,313.04 524.98,313.1 526.09,313.17 527.19,313.23 528.29,313.29 529.4,313.34 530.5,313.4 531.6,313.45 532.71,313.5 533.81,313.54 534.92,313.59 534.99,313.59" fill="none" stroke="#5cdc42" stroke-width="0.7" stroke-dasharray="4.5 3" stroke-linejoin="round" opacity="0.55"/>
</g>
<rect x="314" y="164.2" width="221" height="160" fill="none" stroke="#707070" stroke-width="1"/>
<line x1="310.3" x2="314" y1="324.2" y2="324.2" stroke="#555" stroke-width="0.9"/>
<text class="ss" x="309.8" y="326.8" font-size="7.3" font-weight="bold" fill="#222" text-anchor="end">0</text>
<line x1="310.3" x2="314" y1="301.32" y2="301.32" stroke="#555" stroke-width="0.9"/>
<text class="ss" x="309.8" y="303.92" font-size="7.3" font-weight="bold" fill="#222" text-anchor="end">10000</text>
<line x1="310.3" x2="314" y1="278.44" y2="278.44" stroke="#555" stroke-width="0.9"/>
<text class="ss" x="309.8" y="281.04" font-size="7.3" font-weight="bold" fill="#222" text-anchor="end">20000</text>
<line x1="310.3" x2="314" y1="255.56" y2="255.56" stroke="#555" stroke-width="0.9"/>
<text class="ss" x="309.8" y="258.16" font-size="7.3" font-weight="bold" fill="#222" text-anchor="end">30000</text>
<line x1="310.3" x2="314" y1="232.68" y2="232.68" stroke="#555" stroke-width="0.9"/>
<text class="ss" x="309.8" y="235.28" font-size="7.3" font-weight="bold" fill="#222" text-anchor="end">40000</text>
<line x1="310.3" x2="314" y1="209.8" y2="209.8" stroke="#555" stroke-width="0.9"/>
<text class="ss" x="309.8" y="212.4" font-size="7.3" font-weight="bold" fill="#222" text-anchor="end">50000</text>
<line x1="310.3" x2="314" y1="186.92" y2="186.92" stroke="#555" stroke-width="0.9"/>
<text class="ss" x="309.8" y="189.52" font-size="7.3" font-weight="bold" fill="#222" text-anchor="end">60000</text>
<line x1="310.3" x2="314" y1="164.04" y2="164.04" stroke="#555" stroke-width="0.9"/>
<text class="ss" x="309.8" y="166.64" font-size="7.3" font-weight="bold" fill="#222" text-anchor="end">70000</text>
<line x1="314.3" x2="314.3" y1="324.2" y2="326.6" stroke="#555" stroke-width="0.9"/>
<text class="ss" x="314.3" y="335.4" font-size="7.2" font-weight="bold" fill="#222" text-anchor="middle">500</text>
<line x1="343.73" x2="343.73" y1="324.2" y2="326.6" stroke="#555" stroke-width="0.9"/>
<text class="ss" x="343.73" y="335.4" font-size="7.2" font-weight="bold" fill="#222" text-anchor="middle">520</text>
<line x1="373.16" x2="373.16" y1="324.2" y2="326.6" stroke="#555" stroke-width="0.9"/>
<text class="ss" x="373.16" y="335.4" font-size="7.2" font-weight="bold" fill="#222" text-anchor="middle">540</text>
<line x1="402.59" x2="402.59" y1="324.2" y2="326.6" stroke="#555" stroke-width="0.9"/>
<text class="ss" x="402.59" y="335.4" font-size="7.2" font-weight="bold" fill="#222" text-anchor="middle">560</text>
<line x1="432.02" x2="432.02" y1="324.2" y2="326.6" stroke="#555" stroke-width="0.9"/>
<text class="ss" x="432.02" y="335.4" font-size="7.2" font-weight="bold" fill="#222" text-anchor="middle">580</text>
<line x1="461.45" x2="461.45" y1="324.2" y2="326.6" stroke="#555" stroke-width="0.9"/>
<text class="ss" x="461.45" y="335.4" font-size="7.2" font-weight="bold" fill="#222" text-anchor="middle">600</text>
<line x1="490.88" x2="490.88" y1="324.2" y2="326.6" stroke="#555" stroke-width="0.9"/>
<text class="ss" x="490.88" y="335.4" font-size="7.2" font-weight="bold" fill="#222" text-anchor="middle">620</text>
<line x1="520.31" x2="520.31" y1="324.2" y2="326.6" stroke="#555" stroke-width="0.9"/>
<text class="ss" x="520.31" y="335.4" font-size="7.2" font-weight="bold" fill="#222" text-anchor="middle">640</text>
<text class="ss" x="424.6" y="349.4" font-size="9.4" font-weight="bold" fill="#000" text-anchor="middle" textLength="75.5" lengthAdjust="spacingAndGlyphs">Wavelength (nm)</text>
<text class="ss" transform="translate(282.3 244.6) rotate(-90)" font-size="9.3" font-weight="bold" fill="#000" text-anchor="middle" textLength="64.8" lengthAdjust="spacingAndGlyphs">Intensity (A.U.)</text>
<text class="ss" x="347.3" y="186.7" font-size="6.4" font-weight="bold" fill="#111">Air<tspan font-size="4.8" dy="1.6">PS</tspan></text>
<text class="ss" x="399" y="177.5" font-size="6.4" font-weight="bold" fill="#111">Air</text>
<text class="ss" x="393" y="208.7" font-size="6.4" font-weight="bold" fill="#111">Ethanol<tspan font-size="4.8" dy="1.6">PS</tspan></text>
<text class="ss" x="400" y="228.6" font-size="6.4" font-weight="bold" fill="#111">IPA <tspan font-size="4.8" dy="1.6">PS</tspan></text>
<text class="ss" x="464" y="222.2" font-size="6.4" font-weight="bold" fill="#111">decaline</text>
<text class="ss" x="441.8" y="258" font-size="6.4" font-weight="bold" fill="#111">hexadecane</text>
<text class="ss" x="459.5" y="274.6" font-size="6.4" font-weight="bold" fill="#111">water</text>
<text class="ss" x="408.5" y="278.4" font-size="6.4" font-weight="bold" fill="#3f7f95">IPA</text>
<text class="ss" x="408.5" y="298.4" font-size="6.4" font-weight="bold" fill="#111">Ethanol</text>
<rect x="479.7" y="164.1" width="55.6" height="48.2" fill="#040604"/>
<polygon points="496.2,181.3 515,167.9 532.3,186.3 512.6,199.4" fill="#2c9c2e"/>
<polygon points="496.2,181.3 500.6,178.2 517.3,196.3 512.6,199.4" fill="#52e04e"/>
<polygon points="503,176.5 515,167.9 523,176.4 510,185" fill="#237f25" opacity="0.5"/>
<line x1="502" y1="186" x2="492" y2="191.5" stroke="#1f7a26" stroke-width="0.7"/><line x1="509" y1="195" x2="500" y2="200.5" stroke="#1f7a26" stroke-width="0.7"/>
<path d="M492.5 193.6 Q488 196.5 489.4 202.5 Q491 208 499.4 209.5 L498.8 198.4 Z" fill="#4fdc4c"/>
</svg></body></html>
